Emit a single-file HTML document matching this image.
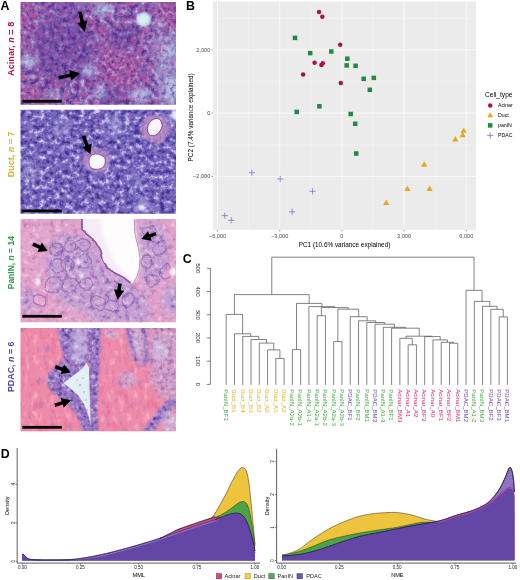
<!DOCTYPE html>
<html><head><meta charset="utf-8"><style>
html,body{margin:0;padding:0;background:#fff;}
body{width:520px;height:580px;overflow:hidden;}
svg{display:block;font-family:'Liberation Sans', Arial, Helvetica, sans-serif;}
</style></head><body>
<svg width="520" height="580" viewBox="0 0 520 580">
<defs>
<linearGradient id="lumg4" x1="0" y1="0" x2="1" y2="1"><stop offset="0" stop-color="#e6f0f4"/><stop offset="1" stop-color="#dceef2"/></linearGradient>
<filter id="bl0_6" x="-50%" y="-50%" width="200%" height="200%"><feGaussianBlur stdDeviation="0.6"/></filter>
<filter id="bl1" x="-50%" y="-50%" width="200%" height="200%"><feGaussianBlur stdDeviation="1"/></filter>
<filter id="bl1_2" x="-50%" y="-50%" width="200%" height="200%"><feGaussianBlur stdDeviation="1.2"/></filter>
<filter id="bl1_5" x="-50%" y="-50%" width="200%" height="200%"><feGaussianBlur stdDeviation="1.5"/></filter>
<filter id="bl2" x="-50%" y="-50%" width="200%" height="200%"><feGaussianBlur stdDeviation="2"/></filter>
<filter id="bl2_5" x="-50%" y="-50%" width="200%" height="200%"><feGaussianBlur stdDeviation="2.5"/></filter>
<filter id="bl3" x="-50%" y="-50%" width="200%" height="200%"><feGaussianBlur stdDeviation="3"/></filter>
<filter id="bl4" x="-50%" y="-50%" width="200%" height="200%"><feGaussianBlur stdDeviation="4"/></filter>
<filter id="bl6" x="-50%" y="-50%" width="200%" height="200%"><feGaussianBlur stdDeviation="6"/></filter>
<filter id="wob" x="-10%" y="-10%" width="120%" height="120%"><feTurbulence type="fractalNoise" baseFrequency="0.12" numOctaves="2" seed="9" result="t"/><feDisplacementMap in="SourceGraphic" in2="t" scale="5" xChannelSelector="R" yChannelSelector="G" result="d"/><feGaussianBlur in="d" stdDeviation="0.7"/></filter>
<filter id="wob2" x="-10%" y="-10%" width="120%" height="120%"><feTurbulence type="fractalNoise" baseFrequency="0.08" numOctaves="1" seed="5" result="t"/><feDisplacementMap in="SourceGraphic" in2="t" scale="3" xChannelSelector="R" yChannelSelector="G" result="d"/><feGaussianBlur in="d" stdDeviation="0.55"/></filter>
<filter id="tx_pur1" x="0" y="0" width="100%" height="100%" filterUnits="objectBoundingBox" color-interpolation-filters="sRGB"><feTurbulence type="fractalNoise" baseFrequency="0.2" numOctaves="4" seed="3" result="n"/><feFlood flood-color="#8c66b2" result="b"/><feTurbulence type="fractalNoise" baseFrequency="0.16" numOctaves="2" seed="77" result="n2"/><feColorMatrix in="n" type="matrix" values="0 0 0 0 0.769  0 0 0 0 0.722  0 0 0 0 0.886  -3.600 0.000 0.000 0.000 1.620" result="l"/><feColorMatrix in="n" type="matrix" values="0 0 0 0 0.337  0 0 0 0 0.188  0 0 0 0 0.557  4.000 0.000 0.000 0.000 -1.960" result="d"/><feColorMatrix in="n2" type="matrix" values="0 0 0 0 0.737  0 0 0 0 0.306  0 0 0 0 0.596  0.000 3.000 0.000 0.000 -1.500" result="p"/><feMerge><feMergeNode in="b"/><feMergeNode in="l"/><feMergeNode in="d"/><feMergeNode in="p"/></feMerge></filter>
<filter id="tx_mag1" x="0" y="0" width="100%" height="100%" filterUnits="objectBoundingBox" color-interpolation-filters="sRGB"><feTurbulence type="fractalNoise" baseFrequency="0.26" numOctaves="3" seed="5" result="n"/><feFlood flood-color="#a060a8" result="b"/><feColorMatrix in="n" type="matrix" values="0 0 0 0 0.816  0 0 0 0 0.706  0 0 0 0 0.863  -3.400 0.000 0.000 0.000 1.530" result="l"/><feColorMatrix in="n" type="matrix" values="0 0 0 0 0.384  0 0 0 0 0.184  0 0 0 0 0.557  3.600 0.000 0.000 0.000 -1.764" result="d"/><feColorMatrix in="n" type="matrix" values="0 0 0 0 0.769  0 0 0 0 0.314  0 0 0 0 0.612  0.000 3.000 0.000 0.000 -1.500" result="p"/><feMerge><feMergeNode in="b"/><feMergeNode in="l"/><feMergeNode in="d"/><feMergeNode in="p"/></feMerge></filter>
<filter id="tx_lite1" x="0" y="0" width="100%" height="100%" filterUnits="objectBoundingBox" color-interpolation-filters="sRGB"><feTurbulence type="fractalNoise" baseFrequency="0.24" numOctaves="3" seed="7" result="n"/><feFlood flood-color="#b4c6e8" result="b"/><feColorMatrix in="n" type="matrix" values="0 0 0 0 0.824  0 0 0 0 0.925  0 0 0 0 0.957  -3.600 0.000 0.000 0.000 1.656" result="l"/><feColorMatrix in="n" type="matrix" values="0 0 0 0 0.455  0 0 0 0 0.376  0 0 0 0 0.706  3.600 0.000 0.000 0.000 -1.908" result="d"/><feColorMatrix in="n" type="matrix" values="0 0 0 0 0.690  0 0 0 0 0.533  0 0 0 0 0.784  0.000 3.000 0.000 0.000 -1.800" result="p"/><feMerge><feMergeNode in="b"/><feMergeNode in="l"/><feMergeNode in="d"/><feMergeNode in="p"/></feMerge></filter>
<filter id="tx_dark1" x="0" y="0" width="100%" height="100%" filterUnits="objectBoundingBox" color-interpolation-filters="sRGB"><feTurbulence type="fractalNoise" baseFrequency="0.22" numOctaves="3" seed="4" result="n"/><feFlood flood-color="#7654a8" result="b"/><feTurbulence type="fractalNoise" baseFrequency="0.2" numOctaves="2" seed="78" result="n2"/><feColorMatrix in="n" type="matrix" values="0 0 0 0 0.659  0 0 0 0 0.565  0 0 0 0 0.816  -3.400 0.000 0.000 0.000 1.496" result="l"/><feColorMatrix in="n" type="matrix" values="0 0 0 0 0.290  0 0 0 0 0.165  0 0 0 0 0.533  4.000 0.000 0.000 0.000 -1.920" result="d"/><feColorMatrix in="n2" type="matrix" values="0 0 0 0 0.643  0 0 0 0 0.298  0 0 0 0 0.612  0.000 3.000 0.000 0.000 -1.560" result="p"/><feMerge><feMergeNode in="b"/><feMergeNode in="l"/><feMergeNode in="d"/><feMergeNode in="p"/></feMerge></filter>
<filter id="tx_pur2" x="0" y="0" width="100%" height="100%" filterUnits="objectBoundingBox" color-interpolation-filters="sRGB"><feTurbulence type="fractalNoise" baseFrequency="0.2" numOctaves="4" seed="11" result="n"/><feFlood flood-color="#7868be" result="b"/><feTurbulence type="fractalNoise" baseFrequency="0.15" numOctaves="2" seed="99" result="n2"/><feColorMatrix in="n" type="matrix" values="0 0 0 0 0.831  0 0 0 0 0.816  0 0 0 0 0.949  -3.800 0.000 0.000 0.000 1.748" result="l"/><feColorMatrix in="n" type="matrix" values="0 0 0 0 0.251  0 0 0 0 0.188  0 0 0 0 0.557  3.800 0.000 0.000 0.000 -1.900" result="d"/><feColorMatrix in="n2" type="matrix" values="0 0 0 0 0.596  0 0 0 0 0.455  0 0 0 0 0.745  0.000 2.400 0.000 0.000 -1.320" result="p"/><feMerge><feMergeNode in="b"/><feMergeNode in="l"/><feMergeNode in="d"/><feMergeNode in="p"/></feMerge></filter>
<filter id="tx_lite2" x="0" y="0" width="100%" height="100%" filterUnits="objectBoundingBox" color-interpolation-filters="sRGB"><feTurbulence type="fractalNoise" baseFrequency="0.22" numOctaves="3" seed="12" result="n"/><feFlood flood-color="#a49cd8" result="b"/><feColorMatrix in="n" type="matrix" values="0 0 0 0 0.878  0 0 0 0 0.878  0 0 0 0 0.957  -3.600 0.000 0.000 0.000 1.620" result="l"/><feColorMatrix in="n" type="matrix" values="0 0 0 0 0.353  0 0 0 0 0.282  0 0 0 0 0.659  3.600 0.000 0.000 0.000 -1.872" result="d"/><feMerge><feMergeNode in="b"/><feMergeNode in="l"/><feMergeNode in="d"/></feMerge></filter>
<filter id="tx_ring2" x="0" y="0" width="100%" height="100%" filterUnits="objectBoundingBox" color-interpolation-filters="sRGB"><feTurbulence type="fractalNoise" baseFrequency="0.24" numOctaves="2" seed="13" result="n"/><feFlood flood-color="#b48cc6" result="b"/><feColorMatrix in="n" type="matrix" values="0 0 0 0 0.839  0 0 0 0 0.769  0 0 0 0 0.902  -3.000 0.000 0.000 0.000 1.350" result="l"/><feColorMatrix in="n" type="matrix" values="0 0 0 0 0.541  0 0 0 0 0.353  0 0 0 0 0.659  3.000 0.000 0.000 0.000 -1.680" result="d"/><feColorMatrix in="n" type="matrix" values="0 0 0 0 0.776  0 0 0 0 0.518  0 0 0 0 0.753  0.000 2.600 0.000 0.000 -1.352" result="p"/><feMerge><feMergeNode in="b"/><feMergeNode in="l"/><feMergeNode in="d"/><feMergeNode in="p"/></feMerge></filter>
<filter id="tx_pink3" x="0" y="0" width="100%" height="100%" filterUnits="objectBoundingBox" color-interpolation-filters="sRGB"><feTurbulence type="fractalNoise" baseFrequency="0.18" numOctaves="3" seed="17" result="n"/><feFlood flood-color="#e2a6cc" result="b"/><feColorMatrix in="n" type="matrix" values="0 0 0 0 0.949  0 0 0 0 0.839  0 0 0 0 0.918  -3.000 0.000 0.000 0.000 1.320" result="l"/><feColorMatrix in="n" type="matrix" values="0 0 0 0 0.722  0 0 0 0 0.471  0 0 0 0 0.722  3.000 0.000 0.000 0.000 -1.680" result="d"/><feColorMatrix in="n" type="matrix" values="0 0 0 0 0.886  0 0 0 0 0.549  0 0 0 0 0.737  0.000 2.600 0.000 0.000 -1.404" result="p"/><feMerge><feMergeNode in="b"/><feMergeNode in="l"/><feMergeNode in="d"/><feMergeNode in="p"/></feMerge></filter>
<filter id="tx_gland3" x="0" y="0" width="100%" height="100%" filterUnits="objectBoundingBox" color-interpolation-filters="sRGB"><feTurbulence type="fractalNoise" baseFrequency="0.2" numOctaves="3" seed="19" result="n"/><feFlood flood-color="#c0a0d2" result="b"/><feColorMatrix in="n" type="matrix" values="0 0 0 0 0.902  0 0 0 0 0.839  0 0 0 0 0.933  -3.200 0.000 0.000 0.000 1.408" result="l"/><feColorMatrix in="n" type="matrix" values="0 0 0 0 0.502  0 0 0 0 0.345  0 0 0 0 0.690  3.400 0.000 0.000 0.000 -1.802" result="d"/><feColorMatrix in="n" type="matrix" values="0 0 0 0 0.847  0 0 0 0 0.627  0 0 0 0 0.800  0.000 2.600 0.000 0.000 -1.404" result="p"/><feMerge><feMergeNode in="b"/><feMergeNode in="l"/><feMergeNode in="d"/><feMergeNode in="p"/></feMerge></filter>
<filter id="tx_lum3" x="0" y="0" width="100%" height="100%" filterUnits="objectBoundingBox" color-interpolation-filters="sRGB"><feTurbulence type="fractalNoise" baseFrequency="0.15" numOctaves="2" seed="20" result="n"/><feFlood flood-color="#f6eef4" result="b"/><feColorMatrix in="n" type="matrix" values="0 0 0 0 1.000  0 0 0 0 1.000  0 0 0 0 1.000  -3.000 0.000 0.000 0.000 1.500" result="l"/><feColorMatrix in="n" type="matrix" values="0 0 0 0 0.894  0 0 0 0 0.800  0 0 0 0 0.878  3.000 0.000 0.000 0.000 -1.740" result="d"/><feMerge><feMergeNode in="b"/><feMergeNode in="l"/><feMergeNode in="d"/></feMerge></filter>
<filter id="tx_pink4" x="0" y="0" width="100%" height="100%" filterUnits="objectBoundingBox" color-interpolation-filters="sRGB"><feTurbulence type="fractalNoise" baseFrequency="0.16 0.09" numOctaves="3" seed="23" result="n"/><feFlood flood-color="#ee8aaa" result="b"/><feColorMatrix in="n" type="matrix" values="0 0 0 0 0.973  0 0 0 0 0.737  0 0 0 0 0.800  -3.000 0.000 0.000 0.000 1.290" result="l"/><feColorMatrix in="n" type="matrix" values="0 0 0 0 0.690  0 0 0 0 0.471  0 0 0 0 0.706  3.000 0.000 0.000 0.000 -1.860" result="d"/><feColorMatrix in="n" type="matrix" values="0 0 0 0 0.925  0 0 0 0 0.416  0 0 0 0 0.565  0.000 2.600 0.000 0.000 -1.404" result="p"/><feMerge><feMergeNode in="b"/><feMergeNode in="l"/><feMergeNode in="d"/><feMergeNode in="p"/></feMerge></filter>
<filter id="tx_mot4" x="0" y="0" width="100%" height="100%" filterUnits="objectBoundingBox" color-interpolation-filters="sRGB"><feTurbulence type="fractalNoise" baseFrequency="0.22" numOctaves="3" seed="33" result="n"/><feFlood flood-color="#c8a0cc" result="b"/><feColorMatrix in="n" type="matrix" values="0 0 0 0 0.925  0 0 0 0 0.847  0 0 0 0 0.918  -3.000 0.000 0.000 0.000 1.350" result="l"/><feColorMatrix in="n" type="matrix" values="0 0 0 0 0.478  0 0 0 0 0.361  0 0 0 0 0.690  3.400 0.000 0.000 0.000 -1.802" result="d"/><feColorMatrix in="n" type="matrix" values="0 0 0 0 0.910  0 0 0 0 0.565  0 0 0 0 0.722  0.000 2.600 0.000 0.000 -1.352" result="p"/><feMerge><feMergeNode in="b"/><feMergeNode in="l"/><feMergeNode in="d"/><feMergeNode in="p"/></feMerge></filter>
<filter id="tx_pur4" x="0" y="0" width="100%" height="100%" filterUnits="objectBoundingBox" color-interpolation-filters="sRGB"><feTurbulence type="fractalNoise" baseFrequency="0.24" numOctaves="3" seed="29" result="n"/><feFlood flood-color="#9478c4" result="b"/><feColorMatrix in="n" type="matrix" values="0 0 0 0 0.808  0 0 0 0 0.769  0 0 0 0 0.918  -3.400 0.000 0.000 0.000 1.530" result="l"/><feColorMatrix in="n" type="matrix" values="0 0 0 0 0.322  0 0 0 0 0.227  0 0 0 0 0.612  3.600 0.000 0.000 0.000 -1.800" result="d"/><feColorMatrix in="n" type="matrix" values="0 0 0 0 0.690  0 0 0 0 0.518  0 0 0 0 0.784  0.000 2.400 0.000 0.000 -1.320" result="p"/><feMerge><feMergeNode in="b"/><feMergeNode in="l"/><feMergeNode in="d"/><feMergeNode in="p"/></feMerge></filter>
<filter id="tx_lite4" x="0" y="0" width="100%" height="100%" filterUnits="objectBoundingBox" color-interpolation-filters="sRGB"><feTurbulence type="fractalNoise" baseFrequency="0.2" numOctaves="3" seed="31" result="n"/><feFlood flood-color="#cabce2" result="b"/><feColorMatrix in="n" type="matrix" values="0 0 0 0 0.933  0 0 0 0 0.941  0 0 0 0 0.973  -3.400 0.000 0.000 0.000 1.530" result="l"/><feColorMatrix in="n" type="matrix" values="0 0 0 0 0.541  0 0 0 0 0.439  0 0 0 0 0.737  3.400 0.000 0.000 0.000 -1.904" result="d"/><feColorMatrix in="n" type="matrix" values="0 0 0 0 0.878  0 0 0 0 0.659  0 0 0 0 0.800  0.000 2.600 0.000 0.000 -1.430" result="p"/><feMerge><feMergeNode in="b"/><feMergeNode in="l"/><feMergeNode in="d"/><feMergeNode in="p"/></feMerge></filter>
<filter id="tx_lum4" x="0" y="0" width="100%" height="100%" filterUnits="objectBoundingBox" color-interpolation-filters="sRGB"><feTurbulence type="fractalNoise" baseFrequency="0.25" numOctaves="2" seed="41" result="n"/><feFlood flood-color="#e2eef4" result="b"/><feColorMatrix in="n" type="matrix" values="0 0 0 0 0.965  0 0 0 0 0.984  0 0 0 0 0.988  -3.000 0.000 0.000 0.000 1.350" result="l"/><feColorMatrix in="n" type="matrix" values="0 0 0 0 0.722  0 0 0 0 0.706  0 0 0 0 0.863  3.000 0.000 0.000 0.000 -1.800" result="d"/><feMerge><feMergeNode in="b"/><feMergeNode in="l"/><feMergeNode in="d"/></feMerge></filter>
</defs>
<clipPath id="clip1"><rect x="20.5" y="2.1" width="155.5" height="102.7"/></clipPath>
<g clip-path="url(#clip1)">
<rect x="20.5" y="2.1" width="155.5" height="102.7" filter="url(#tx_pur1)"/>
<mask id="m1_0" maskUnits="userSpaceOnUse" x="20.5" y="2.1" width="155.5" height="102.7"><g filter="url(#bl3)" fill="#fff"><path d="M40,20 L70,14 L90,28 L92,55 L84,78 L60,82 L42,74 L36,50 Z"/><ellipse cx="120" cy="36" rx="18" ry="10"/><ellipse cx="64" cy="8" rx="14" ry="6"/><ellipse cx="112" cy="96" rx="12" ry="7"/></g></mask>
<rect x="20.5" y="2.1" width="155.5" height="102.7" filter="url(#tx_dark1)" mask="url(#m1_0)" opacity="0.85"/>
<mask id="m1_1" maskUnits="userSpaceOnUse" x="20.5" y="2.1" width="155.5" height="102.7"><g filter="url(#bl2_5)" fill="#fff"><path d="M19,2 L38,2 L30,14 L26,52 L19,54 Z"/><path d="M84,22 L92,20 L114,40 L108,46 Z"/><path d="M100,48 L130,50 L142,70 L136,90 L112,86 L100,70 Z"/><path d="M152,2 L178,2 L178,30 L160,28 Z"/><ellipse cx="30" cy="94" rx="14" ry="8"/><ellipse cx="158" cy="50" rx="8" ry="10"/></g></mask>
<rect x="20.5" y="2.1" width="155.5" height="102.7" filter="url(#tx_mag1)" mask="url(#m1_1)" opacity="0.85"/>
<mask id="m1_2" maskUnits="userSpaceOnUse" x="20.5" y="2.1" width="155.5" height="102.7"><g filter="url(#bl2_5)" fill="#fff"><ellipse cx="29" cy="61" rx="8" ry="6"/><ellipse cx="89" cy="70" rx="7" ry="6"/><ellipse cx="100" cy="92" rx="6" ry="6"/><ellipse cx="140" cy="95" rx="10" ry="7"/><ellipse cx="103" cy="9" rx="10" ry="6"/><ellipse cx="160" cy="24" rx="5" ry="4"/><ellipse cx="170" cy="52" rx="6" ry="6"/><ellipse cx="172" cy="88" rx="6" ry="12"/></g></mask>
<rect x="20.5" y="2.1" width="155.5" height="102.7" filter="url(#tx_lite1)" mask="url(#m1_2)" opacity="0.8"/>
<mask id="m1_3" maskUnits="userSpaceOnUse" x="20.5" y="2.1" width="155.5" height="102.7"><g filter="url(#bl3)" fill="#fff"><path d="M152,34 L178,32 L178,106 L158,106 L156,80 Z"/><ellipse cx="55" cy="95" rx="10" ry="4"/></g></mask>
<rect x="20.5" y="2.1" width="155.5" height="102.7" filter="url(#tx_lite1)" mask="url(#m1_3)" opacity="0.45"/>
<ellipse cx="143.6" cy="19.6" rx="7.4" ry="7.3" fill="#c8e2ec" filter="url(#bl1)"/>
<ellipse cx="143.2" cy="19.2" rx="5" ry="4.8" fill="#d8eef2" filter="url(#bl1_5)"/>
<g fill="#a8c0dc" opacity="0.6"><circle cx="146" cy="23" r="0.8"/><circle cx="140" cy="16" r="0.7"/></g>
<path d="M78.25,12.40 L80.49,22.17 L77.08,22.96 L84.60,32.00 L87.41,20.58 L84.00,21.36 L81.75,11.60 Z" fill="#000"/>
<path d="M58.98,79.56 L70.60,77.06 L71.34,80.48 L80.00,73.20 L69.11,70.12 L69.85,73.54 L58.22,76.04 Z" fill="#000"/>
<rect x="22.3" y="99.9" width="39.5" height="2.8" fill="#050505"/>
</g>
<clipPath id="clip2"><rect x="20.5" y="109.8" width="155.5" height="104.0"/></clipPath>
<g clip-path="url(#clip2)">
<rect x="20.5" y="109.8" width="155.5" height="104.0" filter="url(#tx_pur2)"/>
<mask id="m2_0" maskUnits="userSpaceOnUse" x="20.5" y="109.8" width="155.5" height="104.0"><g filter="url(#bl3)" fill="#fff"><ellipse cx="114" cy="126" rx="9" ry="11"/><ellipse cx="172" cy="116" rx="6" ry="8"/><ellipse cx="30" cy="172" rx="8" ry="10"/><ellipse cx="136" cy="182" rx="5" ry="10" transform="rotate(-30 136 182)"/><ellipse cx="142" cy="206" rx="9" ry="7"/><ellipse cx="60" cy="128" rx="8" ry="7"/></g></mask>
<rect x="20.5" y="109.8" width="155.5" height="104.0" filter="url(#tx_lite2)" mask="url(#m2_0)" opacity="0.7"/>
<mask id="m2_1" maskUnits="userSpaceOnUse" x="20.5" y="109.8" width="155.5" height="104.0"><g filter="url(#bl1)" fill="#fff"><ellipse cx="96.6" cy="160.6" rx="13.4" ry="12.2"/><path d="M141,128 Q141,116 153,115 Q166,114 168,127 Q169,140 156,143 Q143,143 141,128 Z"/></g></mask>
<rect x="20.5" y="109.8" width="155.5" height="104.0" filter="url(#tx_ring2)" mask="url(#m2_1)" opacity="0.95"/>
<path d="M89,161 Q89,154.5 95.5,154 Q99.5,153.6 101.5,155.5 Q105.5,156.5 105.3,161 Q105.5,168 98.5,169.2 Q90.5,169.8 89.3,165 Z" fill="#f6f6fb" stroke="#6a48a0" stroke-width="0.8" filter="url(#bl0_6)"/>
<path d="M147.4,128.3 Q147.8,124.5 149.2,122.8 Q151.5,119.8 153.8,119.1 L157.5,118.2 Q160.5,119 161.2,121.8 Q162.6,124.5 162.1,126.5 Q161,130 159.4,132 Q157.5,134.5 154.8,135.7 L150.2,135.7 Q147.2,133 147.4,128.3 Z" fill="#f6f6fb" stroke="#8a3c98" stroke-width="1.0" filter="url(#bl0_6)"/>
<ellipse cx="142" cy="207.5" rx="3.5" ry="3" fill="#e8e8f6" filter="url(#bl1)"/>
<ellipse cx="175" cy="115" rx="3" ry="5" fill="#eeeef8" filter="url(#bl1)"/>
<path d="M81.72,136.65 L85.31,145.98 L82.14,147.20 L90.40,154.20 L91.84,143.47 L88.67,144.69 L85.08,135.35 Z" fill="#000"/>
<rect x="22.3" y="209.5" width="39.5" height="2.8" fill="#050505"/>
</g>
<clipPath id="clip3"><rect x="20.5" y="219.0" width="155.5" height="103.2"/></clipPath>
<g clip-path="url(#clip3)">
<rect x="20.5" y="219.0" width="155.5" height="103.2" filter="url(#tx_pink3)"/>
<mask id="m3_0" maskUnits="userSpaceOnUse" x="20.5" y="219.0" width="155.5" height="103.2"><g filter="url(#bl3)" fill="#fff"><path d="M52,238 L66,232 L80,236 L90,240 L98,252 L102,264 L110,272 L126,280 L136,288 L148,296 L150,322 L96,322 L80,310 L62,304 L50,290 L46,270 L48,252 Z"/><path d="M140,222 L160,222 L168,240 L170,262 L160,282 L150,290 L142,284 L141,262 L139,240 Z"/><ellipse cx="172" cy="300" rx="10" ry="14"/><ellipse cx="26" cy="300" rx="8" ry="12"/></g></mask>
<rect x="20.5" y="219.0" width="155.5" height="103.2" filter="url(#tx_gland3)" mask="url(#m3_0)" opacity="0.9"/>
<path d="M82,216 L133.5,216 L134.5,230.5 L136,238.5 L138.6,249.3 L140,257.4 L139.3,268 L137.2,276 L133,283.5 L130.5,283 L123.8,277.6 L115.7,273.5 L107.6,268.1 L102.9,260 L100.9,250.6 L95.5,241.2 L88.8,235.8 L82,230.5 Z" fill="#f6ecf3" filter="url(#bl0_6)"/>
<path d="M100,216 L133.5,216 L134.5,230.5 L136,238.5 L138.6,249.3 L140,257.4 L139.3,268 L137.2,276 L133,282 L125,274 L116,264 L109,250 L102,234 Z" fill="#fefcfd" filter="url(#bl2)"/>
<path d="M82,219 L82,230.5 L88.8,235.8 L95.5,241.2 L100.9,250.6 L102.9,260 L107.6,268.1 L115.7,273.5 L123.8,277.6 L130.5,283" fill="none" stroke="#8058ae" stroke-width="1.7" filter="url(#wob2)"/>
<path d="M134.5,219 L134.5,230.5 L136,238.5 L138.6,249.3 L140,257.4 L139.3,268 L137.2,276 L133,283.5" fill="none" stroke="#b898cc" stroke-width="1.0" filter="url(#wob2)"/>
<g fill="none" stroke="#7c50a8" stroke-width="1.4" opacity="0.5" filter="url(#wob)"><ellipse cx="56.3" cy="249.4" rx="6.7" ry="6" transform="rotate(20 56.3 249.4)"/><ellipse cx="69.7" cy="246.4" rx="6" ry="5.5" transform="rotate(-10 69.7 246.4)"/><ellipse cx="83" cy="245" rx="7" ry="6" transform="rotate(30 83 245)"/><ellipse cx="57.8" cy="265.7" rx="8" ry="7" transform="rotate(0 57.8 265.7)"/><ellipse cx="68.2" cy="264.2" rx="6" ry="6.5" transform="rotate(0 68.2 264.2)"/><ellipse cx="84.5" cy="261.2" rx="6" ry="7" transform="rotate(10 84.5 261.2)"/><ellipse cx="53.4" cy="285" rx="9" ry="8" transform="rotate(20 53.4 285)"/><ellipse cx="69.7" cy="285" rx="8" ry="7" transform="rotate(-20 69.7 285)"/><ellipse cx="86" cy="283.5" rx="7" ry="6" transform="rotate(0 86 283.5)"/><ellipse cx="97.9" cy="302.8" rx="8" ry="7" transform="rotate(30 97.9 302.8)"/><ellipse cx="112" cy="306" rx="7" ry="6" transform="rotate(0 112 306)"/><ellipse cx="128" cy="300" rx="6" ry="7" transform="rotate(0 128 300)"/><ellipse cx="150" cy="232" rx="7" ry="6" transform="rotate(0 150 232)"/><ellipse cx="160" cy="248" rx="6" ry="7" transform="rotate(20 160 248)"/><ellipse cx="147" cy="262" rx="6" ry="6" transform="rotate(0 147 262)"/><ellipse cx="152" cy="280" rx="7" ry="6" transform="rotate(-20 152 280)"/><ellipse cx="166" cy="272" rx="6" ry="8" transform="rotate(0 166 272)"/><ellipse cx="40" cy="300" rx="7" ry="6" transform="rotate(0 40 300)"/></g>
<ellipse cx="38" cy="281.5" rx="2.5" ry="4" fill="#f6eef4" filter="url(#bl1)"/>
<ellipse cx="78.5" cy="262" rx="2" ry="3.5" fill="#f6eef4" filter="url(#bl1)"/>
<ellipse cx="81.5" cy="276" rx="2" ry="3" fill="#f6eef4" filter="url(#bl1)"/>
<ellipse cx="173" cy="272" rx="3" ry="5" fill="#f8f2f6" filter="url(#bl1)"/>
<path d="M32.13,245.63 L38.89,248.80 L37.44,251.88 L47.80,251.00 L41.87,242.47 L40.42,245.54 L33.67,242.37 Z" fill="#000"/>
<path d="M155.39,231.91 L149.25,234.14 L148.09,230.94 L141.40,238.90 L151.63,240.72 L150.47,237.52 L156.61,235.29 Z" fill="#000"/>
<path d="M118.22,283.34 L117.28,289.64 L113.92,289.15 L117.60,299.80 L124.21,290.67 L120.85,290.17 L121.78,283.86 Z" fill="#000"/>
<rect x="22.3" y="314.9" width="39.5" height="2.8" fill="#050505"/>
</g>
<clipPath id="clip4"><rect x="20.5" y="328.0" width="155.5" height="103.2"/></clipPath>
<g clip-path="url(#clip4)">
<rect x="20.5" y="328.0" width="155.5" height="103.2" filter="url(#tx_pink4)"/>
<mask id="m4_0" maskUnits="userSpaceOnUse" x="20.5" y="328.0" width="155.5" height="103.2"><g filter="url(#bl1_2)" fill="#fff"><path d="M57,326 L60,344 L64,359 L56,366 L48,374 L46,382 L50,390 L58,397 L67,404 L76,414 L82,428 L83,434 L94,434 L92,425 L89,414 L86,404 L80,395 L72,388 L70,383 L76,377 L84,370 L88,362 L88,345 L87,326 Z"/><path d="M87,326 L101,326 L100,350 L98.5,380 L97.5,405 L98,434 L90,434 L90.5,425 L89.5,400 L89,380 L89,362 L88.5,345 Z"/><path d="M140,434 L152,418 L164,404 L178,390 L178,404 L166,416 L156,428 L152,434 Z"/></g></mask>
<rect x="20.5" y="328.0" width="155.5" height="103.2" filter="url(#tx_pur4)" mask="url(#m4_0)" opacity="0.95"/>
<mask id="m4_1" maskUnits="userSpaceOnUse" x="20.5" y="328.0" width="155.5" height="103.2"><g filter="url(#bl2_5)" fill="#fff"><path d="M126,326 L146,326 L148,345 L149,360 L142,369 L134,360 L131,345 Z"/><path d="M150,326 L178,326 L178,400 L160,398 L150,380 Z"/><ellipse cx="125" cy="380" rx="6" ry="10"/></g></mask>
<rect x="20.5" y="328.0" width="155.5" height="103.2" filter="url(#tx_mot4)" mask="url(#m4_1)" opacity="0.85"/>
<mask id="m4_2" maskUnits="userSpaceOnUse" x="20.5" y="328.0" width="155.5" height="103.2"><g filter="url(#bl1_2)" fill="#fff"><path d="M126,326 L131,326 L134,345 L138,362 L134,360 L129,345 Z"/><path d="M142,326 L146,326 L148,345 L149,360 L143,368 L145,350 Z"/></g></mask>
<rect x="20.5" y="328.0" width="155.5" height="103.2" filter="url(#tx_pur4)" mask="url(#m4_2)" opacity="0.9"/>
<mask id="m4_3" maskUnits="userSpaceOnUse" x="20.5" y="328.0" width="155.5" height="103.2"><g filter="url(#bl2)" fill="#fff"><path d="M74,326 L86,326 L87,350 L85,362 L78,364 L70,358 L72,340 Z"/><ellipse cx="160" cy="350" rx="8" ry="12"/><ellipse cx="132" cy="379" rx="4" ry="7"/><ellipse cx="170" cy="422" rx="9" ry="12"/><ellipse cx="112" cy="334" rx="8" ry="5"/><ellipse cx="137" cy="343" rx="4" ry="12"/></g></mask>
<rect x="20.5" y="328.0" width="155.5" height="103.2" filter="url(#tx_lite4)" mask="url(#m4_3)" opacity="0.75"/>
<path d="M86.5,363 L82,369 L74,375 L66,381 L64,383.5 L70,388 L78,395 L84,404 L88.5,415 L90.6,425 L90.3,410 L89.6,395 L89.2,380 L89,368 Z" fill="url(#lumg4)" filter="url(#bl0_6)"/>
<g fill="#8a80b8" opacity="0.7"><circle cx="80" cy="385" r="0.9"/><circle cx="84" cy="392" r="0.8"/><circle cx="77" cy="380" r="0.7"/><circle cx="86" cy="400" r="0.8"/><circle cx="83" cy="378" r="0.7"/><circle cx="87" cy="410" r="0.7"/></g>
<path d="M54.57,368.29 L61.74,370.95 L60.62,373.95 L70.80,372.40 L64.11,364.58 L62.99,367.58 L55.83,364.91 Z" fill="#000"/>
<path d="M55.34,406.92 L62.75,404.60 L63.70,407.66 L70.80,400.20 L60.72,398.11 L61.67,401.17 L54.26,403.48 Z" fill="#000"/>
<rect x="22.3" y="425.9" width="39.5" height="2.8" fill="#050505"/>
</g>
<text transform="translate(14.1,48.8) rotate(-90)" font-size="9.2" font-weight="bold" fill="#B0154C" text-anchor="middle">Acinar, <tspan font-style="italic">n</tspan> = 8</text>
<text transform="translate(14.1,154.4) rotate(-90)" font-size="9.0" font-weight="bold" fill="#E0B12C" text-anchor="middle">Duct, <tspan font-style="italic">n</tspan> = 7</text>
<text transform="translate(14.1,262.7) rotate(-90)" font-size="8.5" font-weight="bold" fill="#2E9E48" text-anchor="middle">PanIN, <tspan font-style="italic">n</tspan> = 14</text>
<text transform="translate(14.1,366.8) rotate(-90)" font-size="8.9" font-weight="bold" fill="#5B3C9C" text-anchor="middle">PDAC, <tspan font-style="italic">n</tspan> = 6</text>
<text x="0.6" y="9.7" font-size="12.4" font-weight="bold" fill="#000">A</text>
<text x="186" y="9.8" font-size="12.4" font-weight="bold" fill="#000">B</text>
<text x="182.8" y="263.2" font-size="12.4" font-weight="bold" fill="#000">C</text>
<text x="0.8" y="457.6" font-size="12.4" font-weight="bold" fill="#000">D</text>
<rect x="213" y="1.6" width="263" height="228.20000000000002" fill="#EBEBEB"/>
<line x1="248.6" y1="1.6" x2="248.6" y2="229.8" stroke="#F4F4F4" stroke-width="0.6"/>
<line x1="310.79999999999995" y1="1.6" x2="310.79999999999995" y2="229.8" stroke="#F4F4F4" stroke-width="0.6"/>
<line x1="373.0" y1="1.6" x2="373.0" y2="229.8" stroke="#F4F4F4" stroke-width="0.6"/>
<line x1="435.20000000000005" y1="1.6" x2="435.20000000000005" y2="229.8" stroke="#F4F4F4" stroke-width="0.6"/>
<line x1="213" y1="208.05" x2="476" y2="208.05" stroke="#F4F4F4" stroke-width="0.6"/>
<line x1="213" y1="144.75" x2="476" y2="144.75" stroke="#F4F4F4" stroke-width="0.6"/>
<line x1="213" y1="81.45" x2="476" y2="81.45" stroke="#F4F4F4" stroke-width="0.6"/>
<line x1="213" y1="18.15" x2="476" y2="18.15" stroke="#F4F4F4" stroke-width="0.6"/>
<line x1="217.5" y1="1.6" x2="217.5" y2="229.8" stroke="#FAFAFA" stroke-width="1"/>
<line x1="279.7" y1="1.6" x2="279.7" y2="229.8" stroke="#FAFAFA" stroke-width="1"/>
<line x1="341.9" y1="1.6" x2="341.9" y2="229.8" stroke="#FAFAFA" stroke-width="1"/>
<line x1="404.1" y1="1.6" x2="404.1" y2="229.8" stroke="#FAFAFA" stroke-width="1"/>
<line x1="466.3" y1="1.6" x2="466.3" y2="229.8" stroke="#FAFAFA" stroke-width="1"/>
<line x1="213" y1="176.4" x2="476" y2="176.4" stroke="#FAFAFA" stroke-width="1"/>
<line x1="213" y1="113.1" x2="476" y2="113.1" stroke="#FAFAFA" stroke-width="1"/>
<line x1="213" y1="49.8" x2="476" y2="49.8" stroke="#FAFAFA" stroke-width="1"/>
<line x1="217.5" y1="229.8" x2="217.5" y2="231.4" stroke="#333" stroke-width="0.5"/>
<line x1="279.7" y1="229.8" x2="279.7" y2="231.4" stroke="#333" stroke-width="0.5"/>
<line x1="341.9" y1="229.8" x2="341.9" y2="231.4" stroke="#333" stroke-width="0.5"/>
<line x1="404.1" y1="229.8" x2="404.1" y2="231.4" stroke="#333" stroke-width="0.5"/>
<line x1="466.3" y1="229.8" x2="466.3" y2="231.4" stroke="#333" stroke-width="0.5"/>
<line x1="211.4" y1="176.4" x2="213" y2="176.4" stroke="#333" stroke-width="0.5"/>
<line x1="211.4" y1="113.1" x2="213" y2="113.1" stroke="#333" stroke-width="0.5"/>
<line x1="211.4" y1="49.8" x2="213" y2="49.8" stroke="#333" stroke-width="0.5"/>
<text x="217.5" y="237.6" font-size="5.6" fill="#4D4D4D" text-anchor="middle">−6,000</text>
<text x="279.7" y="237.6" font-size="5.6" fill="#4D4D4D" text-anchor="middle">−3,000</text>
<text x="341.9" y="237.6" font-size="5.6" fill="#4D4D4D" text-anchor="middle">0</text>
<text x="404.1" y="237.6" font-size="5.6" fill="#4D4D4D" text-anchor="middle">3,000</text>
<text x="466.3" y="237.6" font-size="5.6" fill="#4D4D4D" text-anchor="middle">6,000</text>
<text x="210.3" y="178.4" font-size="5.6" fill="#4D4D4D" text-anchor="end">−2,000</text>
<text x="210.3" y="115.1" font-size="5.6" fill="#4D4D4D" text-anchor="end">0</text>
<text x="210.3" y="51.8" font-size="5.6" fill="#4D4D4D" text-anchor="end">2,000</text>
<text x="344.5" y="246.6" font-size="6.4" fill="#000" text-anchor="middle">PC1 (10.6% variance explained)</text>
<text transform="translate(192.7,117.4) rotate(-90)" font-size="6.4" fill="#000" text-anchor="middle">PC2 (7.4% variance explained)</text>
<circle cx="319.0" cy="11.9" r="2.25" fill="#A4154D"/>
<circle cx="322.3" cy="16.7" r="2.25" fill="#A4154D"/>
<circle cx="340.2" cy="44.8" r="2.25" fill="#A4154D"/>
<circle cx="314.6" cy="62.8" r="2.25" fill="#A4154D"/>
<circle cx="321.4" cy="65.0" r="2.25" fill="#A4154D"/>
<circle cx="322.8" cy="63.2" r="2.25" fill="#A4154D"/>
<circle cx="303.1" cy="74.6" r="2.25" fill="#A4154D"/>
<circle cx="340.8" cy="83.1" r="2.25" fill="#A4154D"/>
<rect x="292.75" y="35.65" width="4.5" height="4.5" fill="#1F8A43"/>
<rect x="307.95" y="50.85" width="4.5" height="4.5" fill="#1F8A43"/>
<rect x="329.05" y="49.25" width="4.5" height="4.5" fill="#1F8A43"/>
<rect x="345.05" y="56.45" width="4.5" height="4.5" fill="#1F8A43"/>
<rect x="344.45" y="63.150000000000006" width="4.5" height="4.5" fill="#1F8A43"/>
<rect x="353.35" y="63.55" width="4.5" height="4.5" fill="#1F8A43"/>
<rect x="361.45" y="76.55" width="4.5" height="4.5" fill="#1F8A43"/>
<rect x="371.55" y="75.65" width="4.5" height="4.5" fill="#1F8A43"/>
<rect x="367.55" y="87.55" width="4.5" height="4.5" fill="#1F8A43"/>
<rect x="317.15" y="104.05" width="4.5" height="4.5" fill="#1F8A43"/>
<rect x="294.45" y="109.65" width="4.5" height="4.5" fill="#1F8A43"/>
<rect x="348.45" y="111.75" width="4.5" height="4.5" fill="#1F8A43"/>
<rect x="352.95" y="121.55" width="4.5" height="4.5" fill="#1F8A43"/>
<rect x="353.95" y="151.25" width="4.5" height="4.5" fill="#1F8A43"/>
<path d="M463.7,127.39999999999999 L466.8,132.79999999999998 L460.59999999999997,132.79999999999998 Z" fill="#E5A91E"/>
<path d="M462.7,131.8 L465.8,137.2 L459.59999999999997,137.2 Z" fill="#E5A91E"/>
<path d="M455.4,136.0 L458.5,141.39999999999998 L452.29999999999995,141.39999999999998 Z" fill="#E5A91E"/>
<path d="M424.2,161.3 L427.3,166.7 L421.09999999999997,166.7 Z" fill="#E5A91E"/>
<path d="M407.5,185.60000000000002 L410.6,191.0 L404.4,191.0 Z" fill="#E5A91E"/>
<path d="M429.6,185.60000000000002 L432.70000000000005,191.0 L426.5,191.0 Z" fill="#E5A91E"/>
<path d="M386.2,199.5 L389.3,204.89999999999998 L383.09999999999997,204.89999999999998 Z" fill="#E5A91E"/>
<path d="M248.8,172.7 H255.0 M251.9,169.6 V175.79999999999998" stroke="#7E7BB5" stroke-width="0.8" fill="none"/>
<path d="M277.09999999999997,179 H283.3 M280.2,175.9 V182.1" stroke="#7E7BB5" stroke-width="0.8" fill="none"/>
<path d="M309.5,191.3 H315.70000000000005 M312.6,188.20000000000002 V194.4" stroke="#7E7BB5" stroke-width="0.8" fill="none"/>
<path d="M289.0,211.8 H295.20000000000005 M292.1,208.70000000000002 V214.9" stroke="#7E7BB5" stroke-width="0.8" fill="none"/>
<path d="M221.70000000000002,215.6 H227.9 M224.8,212.5 V218.7" stroke="#7E7BB5" stroke-width="0.8" fill="none"/>
<path d="M228.1,220.3 H234.29999999999998 M231.2,217.20000000000002 V223.4" stroke="#7E7BB5" stroke-width="0.8" fill="none"/>
<text x="485" y="97" font-size="6.6" fill="#000">Cell_type</text>
<circle cx="490.2" cy="105.4" r="2.25" fill="#A4154D"/>
<path d="M490.2,112.3 L493.09999999999997,117.3 L487.3,117.3 Z" fill="#E5A91E"/>
<rect x="487.95" y="123.15" width="4.5" height="4.5" fill="#1F8A43"/>
<path d="M487.09999999999997,135.4 H493.3 M490.2,132.3 V138.5" stroke="#7E7BB5" stroke-width="0.8" fill="none"/>
<text x="498" y="107.30000000000001" font-size="5.2" fill="#000">Acinar</text>
<text x="498" y="117.2" font-size="5.2" fill="#000">Duct</text>
<text x="498" y="127.30000000000001" font-size="5.2" fill="#000">panIN</text>
<text x="498" y="137.3" font-size="5.2" fill="#000">PDAC</text>
<path d="M275.82,384.90V358.40H284.09V384.90 M267.55,384.90V349.90H279.95V358.40 M259.28,384.90V343.10H273.75V349.90 M251.01,384.90V339.50H266.52V343.10 M242.74,384.90V336.40H258.76V339.50 M234.47,384.90V333.80H250.75V336.40 M226.20,384.90V314.40H242.61V333.80 M292.36,384.90V349.60H300.63V384.90 M317.17,384.90V315.70H325.44V384.90 M333.71,384.90V341.60H341.98V384.90 M449.49,384.90V343.20H457.76V384.90 M441.22,384.90V342.30H453.62V343.20 M432.95,384.90V339.90H447.42V342.30 M424.68,384.90V336.60H440.19V339.90 M408.14,384.90V344.80H416.41V384.90 M399.87,384.90V338.30H412.27V344.80 M406.07,338.30V336.20H432.43V336.60 M391.60,384.90V328.20H419.25V336.20 M383.33,384.90V327.30H405.43V328.20 M375.06,384.90V324.20H394.38V327.30 M366.79,384.90V322.50H384.72V324.20 M358.52,384.90V320.80H375.75V322.50 M350.25,384.90V316.70H367.14V320.80 M337.85,341.60V309.20H358.69V316.70 M321.30,315.70V307.60H348.27V309.20 M308.90,384.90V306.60H334.79V307.60 M296.50,349.60V303.40H321.84V306.60 M234.41,314.40V294.60H309.17V303.40 M499.11,384.90V316.90H507.38V384.90 M490.84,384.90V309.30H503.25V316.90 M482.57,384.90V306.30H497.04V309.30 M474.30,384.90V301.40H489.81V306.30 M466.03,384.90V290.30H482.05V301.40 M271.79,294.60V257.20H474.04V290.30" stroke="#5A5A5A" stroke-width="0.75" fill="none"/>
<path d="M210.4,384.4V268.3" stroke="#5A5A5A" stroke-width="0.75" fill="none"/>
<line x1="206.8" y1="384.40" x2="210.4" y2="384.40" stroke="#5A5A5A" stroke-width="0.75"/>
<text transform="translate(196.4,384.40) rotate(90)" font-size="6.2" fill="#222" text-anchor="middle">0</text>
<line x1="206.8" y1="361.18" x2="210.4" y2="361.18" stroke="#5A5A5A" stroke-width="0.75"/>
<text transform="translate(196.4,361.18) rotate(90)" font-size="6.2" fill="#222" text-anchor="middle">100</text>
<line x1="206.8" y1="337.96" x2="210.4" y2="337.96" stroke="#5A5A5A" stroke-width="0.75"/>
<text transform="translate(196.4,337.96) rotate(90)" font-size="6.2" fill="#222" text-anchor="middle">200</text>
<line x1="206.8" y1="314.74" x2="210.4" y2="314.74" stroke="#5A5A5A" stroke-width="0.75"/>
<text transform="translate(196.4,314.74) rotate(90)" font-size="6.2" fill="#222" text-anchor="middle">300</text>
<line x1="206.8" y1="291.52" x2="210.4" y2="291.52" stroke="#5A5A5A" stroke-width="0.75"/>
<text transform="translate(196.4,291.52) rotate(90)" font-size="6.2" fill="#222" text-anchor="middle">400</text>
<line x1="206.8" y1="268.30" x2="210.4" y2="268.30" stroke="#5A5A5A" stroke-width="0.75"/>
<text transform="translate(196.4,268.30) rotate(90)" font-size="6.2" fill="#222" text-anchor="middle">500</text>
<text transform="translate(224.00,389.2) rotate(90)" font-size="6.1" fill="#3DA83F">PanIN_BF3</text>
<text transform="translate(232.27,389.2) rotate(90)" font-size="6.1" fill="#E3B127">Duct_B1</text>
<text transform="translate(240.54,389.2) rotate(90)" font-size="6.1" fill="#E3B127">Duct_B4</text>
<text transform="translate(248.81,389.2) rotate(90)" font-size="6.1" fill="#E3B127">Duct_B3</text>
<text transform="translate(257.08,389.2) rotate(90)" font-size="6.1" fill="#E3B127">Duct_B2</text>
<text transform="translate(265.35,389.2) rotate(90)" font-size="6.1" fill="#E3B127">Duct_A0</text>
<text transform="translate(273.62,389.2) rotate(90)" font-size="6.1" fill="#E3B127">Duct_A1</text>
<text transform="translate(281.89,389.2) rotate(90)" font-size="6.1" fill="#E3B127">Duct_A2</text>
<text transform="translate(290.16,389.2) rotate(90)" font-size="6.1" fill="#3DA83F">PanIN_A2a-2</text>
<text transform="translate(298.43,389.2) rotate(90)" font-size="6.1" fill="#3DA83F">PanIN_A2b-1</text>
<text transform="translate(306.70,389.2) rotate(90)" font-size="6.1" fill="#3DA83F">PanIN_A1-1</text>
<text transform="translate(314.97,389.2) rotate(90)" font-size="6.1" fill="#3DA83F">PanIN_A2a-1</text>
<text transform="translate(323.24,389.2) rotate(90)" font-size="6.1" fill="#3DA83F">PanIN_A2b-2</text>
<text transform="translate(331.51,389.2) rotate(90)" font-size="6.1" fill="#3DA83F">PanIN_A2a-3</text>
<text transform="translate(339.78,389.2) rotate(90)" font-size="6.1" fill="#3DA83F">PanIN_A2b-3</text>
<text transform="translate(348.05,389.2) rotate(90)" font-size="6.1" fill="#6A4BB5">PDAC_BF1</text>
<text transform="translate(356.32,389.2) rotate(90)" font-size="6.1" fill="#3DA83F">PanIN_BF2</text>
<text transform="translate(364.59,389.2) rotate(90)" font-size="6.1" fill="#3DA83F">PanIN_BM1</text>
<text transform="translate(372.86,389.2) rotate(90)" font-size="6.1" fill="#6A4BB5">PDAC_BM3</text>
<text transform="translate(381.13,389.2) rotate(90)" font-size="6.1" fill="#3DA83F">PanIN_A1-3</text>
<text transform="translate(389.40,389.2) rotate(90)" font-size="6.1" fill="#3DA83F">PanIN_BF1</text>
<text transform="translate(397.67,389.2) rotate(90)" font-size="6.1" fill="#D4286A">Acinar_BM3</text>
<text transform="translate(405.94,389.2) rotate(90)" font-size="6.1" fill="#D4286A">Acinar_A1</text>
<text transform="translate(414.21,389.2) rotate(90)" font-size="6.1" fill="#D4286A">Acinar_A2</text>
<text transform="translate(422.48,389.2) rotate(90)" font-size="6.1" fill="#D4286A">Acinar_BF3</text>
<text transform="translate(430.75,389.2) rotate(90)" font-size="6.1" fill="#D4286A">Acinar_A0</text>
<text transform="translate(439.02,389.2) rotate(90)" font-size="6.1" fill="#D4286A">Acinar_BF1</text>
<text transform="translate(447.29,389.2) rotate(90)" font-size="6.1" fill="#D4286A">Acinar_BF2</text>
<text transform="translate(455.56,389.2) rotate(90)" font-size="6.1" fill="#D4286A">Acinar_BM1</text>
<text transform="translate(463.83,389.2) rotate(90)" font-size="6.1" fill="#6A4BB5">PDAC_BM2</text>
<text transform="translate(472.10,389.2) rotate(90)" font-size="6.1" fill="#3DA83F">PanIN_A1-2</text>
<text transform="translate(480.37,389.2) rotate(90)" font-size="6.1" fill="#3DA83F">PanIN_BM3</text>
<text transform="translate(488.64,389.2) rotate(90)" font-size="6.1" fill="#6A4BB5">PDAC_BF2</text>
<text transform="translate(496.91,389.2) rotate(90)" font-size="6.1" fill="#6A4BB5">PDAC_BF3</text>
<text transform="translate(505.18,389.2) rotate(90)" font-size="6.1" fill="#6A4BB5">PDAC_BM1</text>
<path d="M17.2,448 V563.1 H260" stroke="#333" stroke-width="0.8" fill="none"/>
<line x1="15.4" y1="561.3" x2="17.2" y2="561.3" stroke="#333" stroke-width="0.5"/>
<text transform="translate(14.6,561.3) rotate(-90)" font-size="4.5" fill="#1a1a1a" text-anchor="middle">0</text>
<line x1="15.4" y1="522.8" x2="17.2" y2="522.8" stroke="#333" stroke-width="0.5"/>
<text transform="translate(14.6,522.8) rotate(-90)" font-size="4.5" fill="#1a1a1a" text-anchor="middle">2</text>
<line x1="15.4" y1="484.29999999999995" x2="17.2" y2="484.29999999999995" stroke="#333" stroke-width="0.5"/>
<text transform="translate(14.6,484.29999999999995) rotate(-90)" font-size="4.5" fill="#1a1a1a" text-anchor="middle">4</text>
<line x1="22.3" y1="563.1" x2="22.3" y2="564.8" stroke="#333" stroke-width="0.5"/>
<text x="22.3" y="569" font-size="4.5" fill="#1a1a1a" text-anchor="middle">0.00</text>
<line x1="80.475" y1="563.1" x2="80.475" y2="564.8" stroke="#333" stroke-width="0.5"/>
<text x="80.475" y="569" font-size="4.5" fill="#1a1a1a" text-anchor="middle">0.25</text>
<line x1="138.65" y1="563.1" x2="138.65" y2="564.8" stroke="#333" stroke-width="0.5"/>
<text x="138.65" y="569" font-size="4.5" fill="#1a1a1a" text-anchor="middle">0.50</text>
<line x1="196.825" y1="563.1" x2="196.825" y2="564.8" stroke="#333" stroke-width="0.5"/>
<text x="196.825" y="569" font-size="4.5" fill="#1a1a1a" text-anchor="middle">0.75</text>
<line x1="255.0" y1="563.1" x2="255.0" y2="564.8" stroke="#333" stroke-width="0.5"/>
<text x="255.0" y="569" font-size="4.5" fill="#1a1a1a" text-anchor="middle">1.00</text>
<text x="138.7" y="577" font-size="5.6" fill="#000" text-anchor="middle">MML</text>
<text transform="translate(8.6,505.7) rotate(-90)" font-size="5.6" fill="#000" text-anchor="middle">Density</text>
<path d="M276.6,448.7 V563.1 H516" stroke="#333" stroke-width="0.8" fill="none"/>
<line x1="274.8" y1="560.5" x2="276.6" y2="560.5" stroke="#333" stroke-width="0.5"/>
<text transform="translate(274,560.5) rotate(-90)" font-size="4.5" fill="#1a1a1a" text-anchor="middle">0</text>
<line x1="274.8" y1="527.5" x2="276.6" y2="527.5" stroke="#333" stroke-width="0.5"/>
<text transform="translate(274,527.5) rotate(-90)" font-size="4.5" fill="#1a1a1a" text-anchor="middle">1</text>
<line x1="274.8" y1="494.5" x2="276.6" y2="494.5" stroke="#333" stroke-width="0.5"/>
<text transform="translate(274,494.5) rotate(-90)" font-size="4.5" fill="#1a1a1a" text-anchor="middle">2</text>
<line x1="274.8" y1="461.5" x2="276.6" y2="461.5" stroke="#333" stroke-width="0.5"/>
<text transform="translate(274,461.5) rotate(-90)" font-size="4.5" fill="#1a1a1a" text-anchor="middle">3</text>
<line x1="281.6" y1="563.1" x2="281.6" y2="564.8" stroke="#333" stroke-width="0.5"/>
<text x="281.6" y="569" font-size="4.5" fill="#1a1a1a" text-anchor="middle">0.00</text>
<line x1="339.40000000000003" y1="563.1" x2="339.40000000000003" y2="564.8" stroke="#333" stroke-width="0.5"/>
<text x="339.40000000000003" y="569" font-size="4.5" fill="#1a1a1a" text-anchor="middle">0.25</text>
<line x1="397.20000000000005" y1="563.1" x2="397.20000000000005" y2="564.8" stroke="#333" stroke-width="0.5"/>
<text x="397.20000000000005" y="569" font-size="4.5" fill="#1a1a1a" text-anchor="middle">0.50</text>
<line x1="455.0" y1="563.1" x2="455.0" y2="564.8" stroke="#333" stroke-width="0.5"/>
<text x="455.0" y="569" font-size="4.5" fill="#1a1a1a" text-anchor="middle">0.75</text>
<line x1="512.8" y1="563.1" x2="512.8" y2="564.8" stroke="#333" stroke-width="0.5"/>
<text x="512.8" y="569" font-size="4.5" fill="#1a1a1a" text-anchor="middle">1.00</text>
<text x="397.4" y="576.6" font-size="5.6" fill="#000" text-anchor="middle">NME</text>
<text transform="translate(268.6,506) rotate(-90)" font-size="5.6" fill="#000" text-anchor="middle">Density</text>
<path d="M22.30,560.60 L22.30,556.00 L23.27,556.88 L24.25,557.69 L25.22,558.37 L26.19,558.84 L27.17,559.10 L28.14,559.28 L29.12,559.42 L30.09,559.56 L31.06,559.68 L32.04,559.79 L33.01,559.88 L33.98,559.97 L34.96,560.03 L35.93,560.09 L36.90,560.14 L37.88,560.17 L38.85,560.19 L39.83,560.20 L40.80,560.20 L41.77,560.20 L42.75,560.20 L43.72,560.19 L44.69,560.19 L45.67,560.19 L46.64,560.18 L47.61,560.18 L48.59,560.17 L49.56,560.17 L50.54,560.16 L51.51,560.15 L52.48,560.14 L53.46,560.13 L54.43,560.12 L55.40,560.11 L56.38,560.10 L57.35,560.09 L58.32,560.08 L59.30,560.06 L60.27,560.05 L61.25,560.03 L62.22,560.02 L63.19,560.00 L64.17,559.99 L65.14,559.97 L66.11,559.95 L67.09,559.93 L68.06,559.92 L69.03,559.90 L70.01,559.88 L70.98,559.86 L71.96,559.83 L72.93,559.81 L73.90,559.79 L74.88,559.77 L75.85,559.74 L76.82,559.72 L77.80,559.70 L78.77,559.67 L79.74,559.65 L80.72,559.62 L81.69,559.59 L82.67,559.57 L83.64,559.54 L84.61,559.51 L85.59,559.48 L86.56,559.45 L87.53,559.42 L88.51,559.39 L89.48,559.36 L90.45,559.33 L91.43,559.30 L92.40,559.27 L93.38,559.23 L94.35,559.20 L95.32,559.17 L96.30,559.13 L97.27,559.10 L98.24,559.06 L99.22,559.03 L100.19,558.99 L101.16,558.95 L102.14,558.90 L103.11,558.84 L104.09,558.78 L105.06,558.70 L106.03,558.63 L107.01,558.54 L107.98,558.44 L108.95,558.34 L109.93,558.24 L110.90,558.12 L111.87,558.00 L112.85,557.88 L113.82,557.74 L114.80,557.61 L115.77,557.46 L116.74,557.31 L117.72,557.16 L118.69,557.00 L119.66,556.83 L120.64,556.66 L121.61,556.49 L122.58,556.31 L123.56,556.12 L124.53,555.93 L125.51,555.74 L126.48,555.54 L127.45,555.34 L128.43,555.14 L129.40,554.93 L130.37,554.72 L131.35,554.51 L132.32,554.29 L133.29,554.07 L134.27,553.85 L135.24,553.62 L136.22,553.39 L137.19,553.16 L138.16,552.93 L139.14,552.70 L140.11,552.46 L141.08,552.22 L142.06,551.98 L143.03,551.74 L144.01,551.50 L144.98,551.26 L145.95,551.02 L146.93,550.77 L147.90,550.53 L148.87,550.28 L149.85,550.04 L150.82,549.79 L151.79,549.53 L152.77,549.27 L153.74,548.99 L154.72,548.71 L155.69,548.43 L156.66,548.13 L157.64,547.82 L158.61,547.51 L159.58,547.19 L160.56,546.87 L161.53,546.53 L162.50,546.19 L163.48,545.84 L164.45,545.49 L165.43,545.13 L166.40,544.76 L167.37,544.38 L168.35,544.00 L169.32,543.61 L170.29,543.22 L171.27,542.82 L172.24,542.41 L173.21,541.99 L174.19,541.57 L175.16,541.15 L176.14,540.72 L177.11,540.28 L178.08,539.84 L179.06,539.39 L180.03,538.94 L181.00,538.48 L181.98,538.01 L182.95,537.54 L183.92,537.07 L184.90,536.59 L185.87,536.10 L186.85,535.61 L187.82,535.12 L188.79,534.62 L189.77,534.12 L190.74,533.60 L191.71,533.07 L192.69,532.51 L193.66,531.93 L194.63,531.34 L195.61,530.72 L196.58,530.09 L197.56,529.44 L198.53,528.77 L199.50,528.09 L200.48,527.39 L201.45,526.68 L202.42,525.96 L203.40,525.23 L204.37,524.48 L205.34,523.73 L206.32,522.96 L207.29,522.17 L208.27,521.35 L209.24,520.47 L210.21,519.51 L211.19,518.47 L212.16,517.32 L213.13,516.05 L214.11,514.69 L215.08,513.24 L216.05,511.70 L217.03,510.10 L218.00,508.44 L218.98,506.74 L219.95,505.01 L220.92,503.26 L221.90,501.49 L222.87,499.73 L223.84,497.95 L224.82,496.12 L225.79,494.21 L226.76,492.25 L227.74,490.24 L228.71,488.23 L229.69,486.22 L230.66,484.24 L231.63,482.31 L232.61,480.44 L233.58,478.61 L234.55,476.76 L235.53,474.94 L236.50,473.22 L237.47,471.70 L238.45,470.43 L239.42,469.36 L240.40,468.44 L241.37,467.76 L242.34,467.47 L243.32,467.64 L244.29,468.21 L245.26,469.17 L246.24,470.76 L247.21,473.71 L248.18,478.35 L249.16,484.70 L250.13,493.13 L251.11,503.18 L252.08,513.46 L253.05,523.38 L254.03,533.30 L255.00,544.20 L255.00,560.60 Z" fill="#EEC43E" /><path d="M22.30,556.00 L23.27,556.88 L24.25,557.69 L25.22,558.37 L26.19,558.84 L27.17,559.10 L28.14,559.28 L29.12,559.42 L30.09,559.56 L31.06,559.68 L32.04,559.79 L33.01,559.88 L33.98,559.97 L34.96,560.03 L35.93,560.09 L36.90,560.14 L37.88,560.17 L38.85,560.19 L39.83,560.20 L40.80,560.20 L41.77,560.20 L42.75,560.20 L43.72,560.19 L44.69,560.19 L45.67,560.19 L46.64,560.18 L47.61,560.18 L48.59,560.17 L49.56,560.17 L50.54,560.16 L51.51,560.15 L52.48,560.14 L53.46,560.13 L54.43,560.12 L55.40,560.11 L56.38,560.10 L57.35,560.09 L58.32,560.08 L59.30,560.06 L60.27,560.05 L61.25,560.03 L62.22,560.02 L63.19,560.00 L64.17,559.99 L65.14,559.97 L66.11,559.95 L67.09,559.93 L68.06,559.92 L69.03,559.90 L70.01,559.88 L70.98,559.86 L71.96,559.83 L72.93,559.81 L73.90,559.79 L74.88,559.77 L75.85,559.74 L76.82,559.72 L77.80,559.70 L78.77,559.67 L79.74,559.65 L80.72,559.62 L81.69,559.59 L82.67,559.57 L83.64,559.54 L84.61,559.51 L85.59,559.48 L86.56,559.45 L87.53,559.42 L88.51,559.39 L89.48,559.36 L90.45,559.33 L91.43,559.30 L92.40,559.27 L93.38,559.23 L94.35,559.20 L95.32,559.17 L96.30,559.13 L97.27,559.10 L98.24,559.06 L99.22,559.03 L100.19,558.99 L101.16,558.95 L102.14,558.90 L103.11,558.84 L104.09,558.78 L105.06,558.70 L106.03,558.63 L107.01,558.54 L107.98,558.44 L108.95,558.34 L109.93,558.24 L110.90,558.12 L111.87,558.00 L112.85,557.88 L113.82,557.74 L114.80,557.61 L115.77,557.46 L116.74,557.31 L117.72,557.16 L118.69,557.00 L119.66,556.83 L120.64,556.66 L121.61,556.49 L122.58,556.31 L123.56,556.12 L124.53,555.93 L125.51,555.74 L126.48,555.54 L127.45,555.34 L128.43,555.14 L129.40,554.93 L130.37,554.72 L131.35,554.51 L132.32,554.29 L133.29,554.07 L134.27,553.85 L135.24,553.62 L136.22,553.39 L137.19,553.16 L138.16,552.93 L139.14,552.70 L140.11,552.46 L141.08,552.22 L142.06,551.98 L143.03,551.74 L144.01,551.50 L144.98,551.26 L145.95,551.02 L146.93,550.77 L147.90,550.53 L148.87,550.28 L149.85,550.04 L150.82,549.79 L151.79,549.53 L152.77,549.27 L153.74,548.99 L154.72,548.71 L155.69,548.43 L156.66,548.13 L157.64,547.82 L158.61,547.51 L159.58,547.19 L160.56,546.87 L161.53,546.53 L162.50,546.19 L163.48,545.84 L164.45,545.49 L165.43,545.13 L166.40,544.76 L167.37,544.38 L168.35,544.00 L169.32,543.61 L170.29,543.22 L171.27,542.82 L172.24,542.41 L173.21,541.99 L174.19,541.57 L175.16,541.15 L176.14,540.72 L177.11,540.28 L178.08,539.84 L179.06,539.39 L180.03,538.94 L181.00,538.48 L181.98,538.01 L182.95,537.54 L183.92,537.07 L184.90,536.59 L185.87,536.10 L186.85,535.61 L187.82,535.12 L188.79,534.62 L189.77,534.12 L190.74,533.60 L191.71,533.07 L192.69,532.51 L193.66,531.93 L194.63,531.34 L195.61,530.72 L196.58,530.09 L197.56,529.44 L198.53,528.77 L199.50,528.09 L200.48,527.39 L201.45,526.68 L202.42,525.96 L203.40,525.23 L204.37,524.48 L205.34,523.73 L206.32,522.96 L207.29,522.17 L208.27,521.35 L209.24,520.47 L210.21,519.51 L211.19,518.47 L212.16,517.32 L213.13,516.05 L214.11,514.69 L215.08,513.24 L216.05,511.70 L217.03,510.10 L218.00,508.44 L218.98,506.74 L219.95,505.01 L220.92,503.26 L221.90,501.49 L222.87,499.73 L223.84,497.95 L224.82,496.12 L225.79,494.21 L226.76,492.25 L227.74,490.24 L228.71,488.23 L229.69,486.22 L230.66,484.24 L231.63,482.31 L232.61,480.44 L233.58,478.61 L234.55,476.76 L235.53,474.94 L236.50,473.22 L237.47,471.70 L238.45,470.43 L239.42,469.36 L240.40,468.44 L241.37,467.76 L242.34,467.47 L243.32,467.64 L244.29,468.21 L245.26,469.17 L246.24,470.76 L247.21,473.71 L248.18,478.35 L249.16,484.70 L250.13,493.13 L251.11,503.18 L252.08,513.46 L253.05,523.38 L254.03,533.30 L255.00,544.20" fill="none" stroke="#3a3014" stroke-width="0.55" stroke-linejoin="round"/>
<path d="M22.30,560.60 L22.30,556.00 L23.27,556.88 L24.25,557.69 L25.22,558.37 L26.19,558.84 L27.17,559.10 L28.14,559.28 L29.12,559.42 L30.09,559.56 L31.06,559.68 L32.04,559.79 L33.01,559.88 L33.98,559.97 L34.96,560.03 L35.93,560.09 L36.90,560.14 L37.88,560.17 L38.85,560.19 L39.83,560.20 L40.80,560.20 L41.77,560.20 L42.75,560.20 L43.72,560.19 L44.69,560.19 L45.67,560.19 L46.64,560.18 L47.61,560.18 L48.59,560.17 L49.56,560.17 L50.54,560.16 L51.51,560.15 L52.48,560.14 L53.46,560.14 L54.43,560.13 L55.40,560.12 L56.38,560.10 L57.35,560.09 L58.32,560.08 L59.30,560.07 L60.27,560.05 L61.25,560.04 L62.22,560.03 L63.19,560.01 L64.17,559.99 L65.14,559.98 L66.11,559.96 L67.09,559.94 L68.06,559.92 L69.03,559.91 L70.01,559.89 L70.98,559.87 L71.96,559.84 L72.93,559.82 L73.90,559.80 L74.88,559.78 L75.85,559.76 L76.82,559.73 L77.80,559.71 L78.77,559.68 L79.74,559.66 L80.72,559.63 L81.69,559.60 L82.67,559.58 L83.64,559.55 L84.61,559.52 L85.59,559.49 L86.56,559.46 L87.53,559.43 L88.51,559.40 L89.48,559.37 L90.45,559.34 L91.43,559.31 L92.40,559.27 L93.38,559.24 L94.35,559.21 L95.32,559.17 L96.30,559.14 L97.27,559.10 L98.24,559.07 L99.22,559.03 L100.19,558.99 L101.16,558.94 L102.14,558.88 L103.11,558.80 L104.09,558.72 L105.06,558.61 L106.03,558.50 L107.01,558.37 L107.98,558.23 L108.95,558.08 L109.93,557.92 L110.90,557.75 L111.87,557.56 L112.85,557.37 L113.82,557.17 L114.80,556.96 L115.77,556.73 L116.74,556.50 L117.72,556.26 L118.69,556.02 L119.66,555.76 L120.64,555.50 L121.61,555.23 L122.58,554.95 L123.56,554.67 L124.53,554.39 L125.51,554.09 L126.48,553.79 L127.45,553.49 L128.43,553.18 L129.40,552.87 L130.37,552.56 L131.35,552.24 L132.32,551.92 L133.29,551.59 L134.27,551.27 L135.24,550.94 L136.22,550.61 L137.19,550.28 L138.16,549.95 L139.14,549.62 L140.11,549.29 L141.08,548.96 L142.06,548.62 L143.03,548.30 L144.01,547.97 L144.98,547.64 L145.95,547.32 L146.93,547.00 L147.90,546.68 L148.87,546.36 L149.85,546.05 L150.82,545.74 L151.79,545.42 L152.77,545.10 L153.74,544.78 L154.72,544.45 L155.69,544.11 L156.66,543.78 L157.64,543.44 L158.61,543.09 L159.58,542.74 L160.56,542.38 L161.53,542.03 L162.50,541.66 L163.48,541.30 L164.45,540.93 L165.43,540.55 L166.40,540.18 L167.37,539.79 L168.35,539.41 L169.32,539.02 L170.29,538.63 L171.27,538.23 L172.24,537.83 L173.21,537.43 L174.19,537.02 L175.16,536.61 L176.14,536.20 L177.11,535.79 L178.08,535.37 L179.06,534.94 L180.03,534.52 L181.00,534.09 L181.98,533.66 L182.95,533.22 L183.92,532.79 L184.90,532.35 L185.87,531.91 L186.85,531.46 L187.82,531.01 L188.79,530.56 L189.77,530.11 L190.74,529.64 L191.71,529.16 L192.69,528.66 L193.66,528.14 L194.63,527.62 L195.61,527.08 L196.58,526.54 L197.56,525.99 L198.53,525.44 L199.50,524.90 L200.48,524.36 L201.45,523.82 L202.42,523.30 L203.40,522.80 L204.37,522.31 L205.34,521.84 L206.32,521.40 L207.29,520.96 L208.27,520.54 L209.24,520.12 L210.21,519.69 L211.19,519.26 L212.16,518.83 L213.13,518.41 L214.11,517.99 L215.08,517.57 L216.05,517.16 L217.03,516.73 L218.00,516.30 L218.98,515.87 L219.95,515.41 L220.92,514.94 L221.90,514.45 L222.87,513.94 L223.84,513.39 L224.82,512.80 L225.79,512.17 L226.76,511.50 L227.74,510.81 L228.71,510.10 L229.69,509.39 L230.66,508.67 L231.63,507.96 L232.61,507.27 L233.58,506.57 L234.55,505.85 L235.53,505.09 L236.50,504.34 L237.47,503.63 L238.45,503.00 L239.42,502.47 L240.40,502.07 L241.37,501.77 L242.34,501.56 L243.32,501.50 L244.29,501.73 L245.26,502.32 L246.24,503.25 L247.21,504.66 L248.18,507.00 L249.16,510.42 L250.13,514.68 L251.11,519.78 L252.08,525.66 L253.05,532.01 L254.03,538.67 L255.00,546.00 L255.00,560.60 Z" fill="#4DA244" /><path d="M22.30,556.00 L23.27,556.88 L24.25,557.69 L25.22,558.37 L26.19,558.84 L27.17,559.10 L28.14,559.28 L29.12,559.42 L30.09,559.56 L31.06,559.68 L32.04,559.79 L33.01,559.88 L33.98,559.97 L34.96,560.03 L35.93,560.09 L36.90,560.14 L37.88,560.17 L38.85,560.19 L39.83,560.20 L40.80,560.20 L41.77,560.20 L42.75,560.20 L43.72,560.19 L44.69,560.19 L45.67,560.19 L46.64,560.18 L47.61,560.18 L48.59,560.17 L49.56,560.17 L50.54,560.16 L51.51,560.15 L52.48,560.14 L53.46,560.14 L54.43,560.13 L55.40,560.12 L56.38,560.10 L57.35,560.09 L58.32,560.08 L59.30,560.07 L60.27,560.05 L61.25,560.04 L62.22,560.03 L63.19,560.01 L64.17,559.99 L65.14,559.98 L66.11,559.96 L67.09,559.94 L68.06,559.92 L69.03,559.91 L70.01,559.89 L70.98,559.87 L71.96,559.84 L72.93,559.82 L73.90,559.80 L74.88,559.78 L75.85,559.76 L76.82,559.73 L77.80,559.71 L78.77,559.68 L79.74,559.66 L80.72,559.63 L81.69,559.60 L82.67,559.58 L83.64,559.55 L84.61,559.52 L85.59,559.49 L86.56,559.46 L87.53,559.43 L88.51,559.40 L89.48,559.37 L90.45,559.34 L91.43,559.31 L92.40,559.27 L93.38,559.24 L94.35,559.21 L95.32,559.17 L96.30,559.14 L97.27,559.10 L98.24,559.07 L99.22,559.03 L100.19,558.99 L101.16,558.94 L102.14,558.88 L103.11,558.80 L104.09,558.72 L105.06,558.61 L106.03,558.50 L107.01,558.37 L107.98,558.23 L108.95,558.08 L109.93,557.92 L110.90,557.75 L111.87,557.56 L112.85,557.37 L113.82,557.17 L114.80,556.96 L115.77,556.73 L116.74,556.50 L117.72,556.26 L118.69,556.02 L119.66,555.76 L120.64,555.50 L121.61,555.23 L122.58,554.95 L123.56,554.67 L124.53,554.39 L125.51,554.09 L126.48,553.79 L127.45,553.49 L128.43,553.18 L129.40,552.87 L130.37,552.56 L131.35,552.24 L132.32,551.92 L133.29,551.59 L134.27,551.27 L135.24,550.94 L136.22,550.61 L137.19,550.28 L138.16,549.95 L139.14,549.62 L140.11,549.29 L141.08,548.96 L142.06,548.62 L143.03,548.30 L144.01,547.97 L144.98,547.64 L145.95,547.32 L146.93,547.00 L147.90,546.68 L148.87,546.36 L149.85,546.05 L150.82,545.74 L151.79,545.42 L152.77,545.10 L153.74,544.78 L154.72,544.45 L155.69,544.11 L156.66,543.78 L157.64,543.44 L158.61,543.09 L159.58,542.74 L160.56,542.38 L161.53,542.03 L162.50,541.66 L163.48,541.30 L164.45,540.93 L165.43,540.55 L166.40,540.18 L167.37,539.79 L168.35,539.41 L169.32,539.02 L170.29,538.63 L171.27,538.23 L172.24,537.83 L173.21,537.43 L174.19,537.02 L175.16,536.61 L176.14,536.20 L177.11,535.79 L178.08,535.37 L179.06,534.94 L180.03,534.52 L181.00,534.09 L181.98,533.66 L182.95,533.22 L183.92,532.79 L184.90,532.35 L185.87,531.91 L186.85,531.46 L187.82,531.01 L188.79,530.56 L189.77,530.11 L190.74,529.64 L191.71,529.16 L192.69,528.66 L193.66,528.14 L194.63,527.62 L195.61,527.08 L196.58,526.54 L197.56,525.99 L198.53,525.44 L199.50,524.90 L200.48,524.36 L201.45,523.82 L202.42,523.30 L203.40,522.80 L204.37,522.31 L205.34,521.84 L206.32,521.40 L207.29,520.96 L208.27,520.54 L209.24,520.12 L210.21,519.69 L211.19,519.26 L212.16,518.83 L213.13,518.41 L214.11,517.99 L215.08,517.57 L216.05,517.16 L217.03,516.73 L218.00,516.30 L218.98,515.87 L219.95,515.41 L220.92,514.94 L221.90,514.45 L222.87,513.94 L223.84,513.39 L224.82,512.80 L225.79,512.17 L226.76,511.50 L227.74,510.81 L228.71,510.10 L229.69,509.39 L230.66,508.67 L231.63,507.96 L232.61,507.27 L233.58,506.57 L234.55,505.85 L235.53,505.09 L236.50,504.34 L237.47,503.63 L238.45,503.00 L239.42,502.47 L240.40,502.07 L241.37,501.77 L242.34,501.56 L243.32,501.50 L244.29,501.73 L245.26,502.32 L246.24,503.25 L247.21,504.66 L248.18,507.00 L249.16,510.42 L250.13,514.68 L251.11,519.78 L252.08,525.66 L253.05,532.01 L254.03,538.67 L255.00,546.00" fill="none" stroke="#1a3a16" stroke-width="0.55" stroke-linejoin="round"/>
<path d="M22.30,560.60 L22.30,555.20 L23.08,555.16 L23.86,555.66 L24.63,556.66 L25.41,557.56 L26.19,558.35 L26.97,559.00 L27.75,559.48 L28.53,559.83 L29.30,560.07 L30.08,560.26 L30.86,560.39 L31.64,560.50 L32.42,560.57 L33.20,560.60 L33.97,560.60 L34.75,560.60 L35.53,560.60 L36.31,560.60 L37.09,560.60 L37.87,560.60 L38.64,560.60 L39.42,560.60 L40.20,560.60 L40.98,560.60 L41.76,560.60 L42.53,560.60 L43.31,560.60 L44.09,560.60 L44.87,560.60 L45.65,560.60 L46.43,560.60 L47.20,560.60 L47.98,560.60 L48.76,560.60 L49.54,560.60 L50.32,560.60 L51.10,560.60 L51.87,560.60 L52.65,560.60 L53.43,560.60 L54.21,560.60 L54.99,560.60 L55.77,560.60 L56.54,560.60 L57.32,560.60 L58.10,560.60 L58.88,560.60 L59.66,560.60 L60.43,560.60 L61.21,560.60 L61.99,560.60 L62.77,560.60 L63.55,560.60 L64.33,560.60 L65.10,560.60 L65.88,560.60 L66.66,560.60 L67.44,560.60 L68.22,560.60 L69.00,560.60 L69.77,560.60 L70.55,560.56 L71.33,560.50 L72.11,560.44 L72.89,560.37 L73.67,560.29 L74.44,560.21 L75.22,560.12 L76.00,560.02 L76.78,559.92 L77.56,559.82 L78.33,559.72 L79.11,559.62 L79.89,559.51 L80.67,559.41 L81.45,559.30 L82.23,559.18 L83.00,559.07 L83.78,558.95 L84.56,558.82 L85.34,558.70 L86.12,558.57 L86.90,558.44 L87.67,558.31 L88.45,558.17 L89.23,558.03 L90.01,557.89 L90.79,557.75 L91.57,557.61 L92.34,557.46 L93.12,557.31 L93.90,557.16 L94.68,557.01 L95.46,556.85 L96.23,556.69 L97.01,556.53 L97.79,556.37 L98.57,556.20 L99.35,556.04 L100.13,555.87 L100.90,555.70 L101.68,555.53 L102.46,555.36 L103.24,555.19 L104.02,555.01 L104.80,554.83 L105.57,554.65 L106.35,554.47 L107.13,554.29 L107.91,554.10 L108.69,553.92 L109.47,553.73 L110.24,553.54 L111.02,553.34 L111.80,553.15 L112.58,552.95 L113.36,552.75 L114.13,552.55 L114.91,552.35 L115.69,552.14 L116.47,551.94 L117.25,551.73 L118.03,551.52 L118.80,551.32 L119.58,551.11 L120.36,550.90 L121.14,550.70 L121.92,550.49 L122.70,550.28 L123.47,550.08 L124.25,549.87 L125.03,549.66 L125.81,549.45 L126.59,549.24 L127.37,549.03 L128.14,548.81 L128.92,548.60 L129.70,548.38 L130.48,548.16 L131.26,547.94 L132.03,547.72 L132.81,547.50 L133.59,547.28 L134.37,547.05 L135.15,546.82 L135.93,546.60 L136.70,546.37 L137.48,546.14 L138.26,545.91 L139.04,545.68 L139.82,545.45 L140.60,545.22 L141.37,544.99 L142.15,544.76 L142.93,544.53 L143.71,544.30 L144.49,544.07 L145.27,543.84 L146.04,543.60 L146.82,543.37 L147.60,543.13 L148.38,542.90 L149.16,542.66 L149.93,542.42 L150.71,542.18 L151.49,541.93 L152.27,541.69 L153.05,541.44 L153.83,541.20 L154.60,540.95 L155.38,540.64 L156.16,540.27 L156.94,539.89 L157.72,539.52 L158.50,539.14 L159.27,538.77 L160.05,538.39 L160.83,538.01 L161.61,537.63 L162.39,537.25 L163.17,536.86 L163.94,536.48 L164.72,536.09 L165.50,535.70 L166.28,535.32 L167.06,534.93 L167.83,534.54 L168.61,534.15 L169.39,533.76 L170.17,533.37 L170.95,532.97 L171.73,532.58 L172.50,532.19 L173.28,531.79 L174.06,531.40 L174.84,531.00 L175.62,530.61 L176.40,530.21 L177.17,529.82 L177.95,529.42 L178.73,529.13 L179.51,528.86 L180.29,528.58 L181.07,528.30 L181.84,528.02 L182.62,527.75 L183.40,527.47 L184.18,527.20 L184.96,526.93 L185.73,526.65 L186.51,526.38 L187.29,526.11 L188.07,525.84 L188.85,525.57 L189.63,525.30 L190.40,525.03 L191.18,524.76 L191.96,524.49 L192.74,524.22 L193.52,523.96 L194.30,523.69 L195.07,523.42 L195.85,523.16 L196.63,522.89 L197.41,522.63 L198.19,522.37 L198.97,522.11 L199.74,521.84 L200.52,521.58 L201.30,521.33 L202.08,521.07 L202.86,520.81 L203.63,520.56 L204.41,520.30 L205.19,520.05 L205.97,519.79 L206.75,519.54 L207.53,519.28 L208.30,519.02 L209.08,518.75 L209.86,518.49 L210.64,518.22 L211.42,517.95 L212.20,517.67 L212.97,517.40 L213.75,517.12 L214.53,517.06 L215.31,517.12 L216.09,517.17 L216.87,517.21 L217.64,517.26 L218.42,517.31 L219.20,517.35 L219.98,517.39 L220.76,517.42 L221.53,517.45 L222.31,517.47 L223.09,517.49 L223.87,517.50 L224.65,517.52 L225.43,517.54 L226.20,517.48 L226.98,517.20 L227.76,516.92 L228.54,516.66 L229.32,516.42 L230.10,516.18 L230.87,515.96 L231.65,515.74 L232.43,515.55 L233.21,515.37 L233.99,515.24 L234.77,515.14 L235.54,515.10 L236.32,515.11 L237.10,515.17 L237.88,515.28 L238.66,515.42 L239.43,515.62 L240.21,515.89 L240.99,516.26 L241.77,516.76 L242.55,517.39 L243.33,518.17 L244.10,519.12 L244.88,520.24 L245.66,521.55 L246.44,523.05 L247.22,524.75 L248.00,526.61 L248.77,528.64 L249.55,530.86 L250.33,533.29 L251.11,535.88 L251.89,538.67 L252.67,541.75 L253.44,545.19 L254.22,548.90 L255.00,553.00 L255.00,560.60 Z" fill="#C24C86" /><path d="M22.30,555.20 L23.08,555.16 L23.86,555.66 L24.63,556.66 L25.41,557.56 L26.19,558.35 L26.97,559.00 L27.75,559.48 L28.53,559.83 L29.30,560.07 L30.08,560.26 L30.86,560.39 L31.64,560.50 L32.42,560.57 L33.20,560.60 L33.97,560.60 L34.75,560.60 L35.53,560.60 L36.31,560.60 L37.09,560.60 L37.87,560.60 L38.64,560.60 L39.42,560.60 L40.20,560.60 L40.98,560.60 L41.76,560.60 L42.53,560.60 L43.31,560.60 L44.09,560.60 L44.87,560.60 L45.65,560.60 L46.43,560.60 L47.20,560.60 L47.98,560.60 L48.76,560.60 L49.54,560.60 L50.32,560.60 L51.10,560.60 L51.87,560.60 L52.65,560.60 L53.43,560.60 L54.21,560.60 L54.99,560.60 L55.77,560.60 L56.54,560.60 L57.32,560.60 L58.10,560.60 L58.88,560.60 L59.66,560.60 L60.43,560.60 L61.21,560.60 L61.99,560.60 L62.77,560.60 L63.55,560.60 L64.33,560.60 L65.10,560.60 L65.88,560.60 L66.66,560.60 L67.44,560.60 L68.22,560.60 L69.00,560.60 L69.77,560.60 L70.55,560.56 L71.33,560.50 L72.11,560.44 L72.89,560.37 L73.67,560.29 L74.44,560.21 L75.22,560.12 L76.00,560.02 L76.78,559.92 L77.56,559.82 L78.33,559.72 L79.11,559.62 L79.89,559.51 L80.67,559.41 L81.45,559.30 L82.23,559.18 L83.00,559.07 L83.78,558.95 L84.56,558.82 L85.34,558.70 L86.12,558.57 L86.90,558.44 L87.67,558.31 L88.45,558.17 L89.23,558.03 L90.01,557.89 L90.79,557.75 L91.57,557.61 L92.34,557.46 L93.12,557.31 L93.90,557.16 L94.68,557.01 L95.46,556.85 L96.23,556.69 L97.01,556.53 L97.79,556.37 L98.57,556.20 L99.35,556.04 L100.13,555.87 L100.90,555.70 L101.68,555.53 L102.46,555.36 L103.24,555.19 L104.02,555.01 L104.80,554.83 L105.57,554.65 L106.35,554.47 L107.13,554.29 L107.91,554.10 L108.69,553.92 L109.47,553.73 L110.24,553.54 L111.02,553.34 L111.80,553.15 L112.58,552.95 L113.36,552.75 L114.13,552.55 L114.91,552.35 L115.69,552.14 L116.47,551.94 L117.25,551.73 L118.03,551.52 L118.80,551.32 L119.58,551.11 L120.36,550.90 L121.14,550.70 L121.92,550.49 L122.70,550.28 L123.47,550.08 L124.25,549.87 L125.03,549.66 L125.81,549.45 L126.59,549.24 L127.37,549.03 L128.14,548.81 L128.92,548.60 L129.70,548.38 L130.48,548.16 L131.26,547.94 L132.03,547.72 L132.81,547.50 L133.59,547.28 L134.37,547.05 L135.15,546.82 L135.93,546.60 L136.70,546.37 L137.48,546.14 L138.26,545.91 L139.04,545.68 L139.82,545.45 L140.60,545.22 L141.37,544.99 L142.15,544.76 L142.93,544.53 L143.71,544.30 L144.49,544.07 L145.27,543.84 L146.04,543.60 L146.82,543.37 L147.60,543.13 L148.38,542.90 L149.16,542.66 L149.93,542.42 L150.71,542.18 L151.49,541.93 L152.27,541.69 L153.05,541.44 L153.83,541.20 L154.60,540.95 L155.38,540.64 L156.16,540.27 L156.94,539.89 L157.72,539.52 L158.50,539.14 L159.27,538.77 L160.05,538.39 L160.83,538.01 L161.61,537.63 L162.39,537.25 L163.17,536.86 L163.94,536.48 L164.72,536.09 L165.50,535.70 L166.28,535.32 L167.06,534.93 L167.83,534.54 L168.61,534.15 L169.39,533.76 L170.17,533.37 L170.95,532.97 L171.73,532.58 L172.50,532.19 L173.28,531.79 L174.06,531.40 L174.84,531.00 L175.62,530.61 L176.40,530.21 L177.17,529.82 L177.95,529.42 L178.73,529.13 L179.51,528.86 L180.29,528.58 L181.07,528.30 L181.84,528.02 L182.62,527.75 L183.40,527.47 L184.18,527.20 L184.96,526.93 L185.73,526.65 L186.51,526.38 L187.29,526.11 L188.07,525.84 L188.85,525.57 L189.63,525.30 L190.40,525.03 L191.18,524.76 L191.96,524.49 L192.74,524.22 L193.52,523.96 L194.30,523.69 L195.07,523.42 L195.85,523.16 L196.63,522.89 L197.41,522.63 L198.19,522.37 L198.97,522.11 L199.74,521.84 L200.52,521.58 L201.30,521.33 L202.08,521.07 L202.86,520.81 L203.63,520.56 L204.41,520.30 L205.19,520.05 L205.97,519.79 L206.75,519.54 L207.53,519.28 L208.30,519.02 L209.08,518.75 L209.86,518.49 L210.64,518.22 L211.42,517.95 L212.20,517.67 L212.97,517.40 L213.75,517.12 L214.53,517.06 L215.31,517.12 L216.09,517.17 L216.87,517.21 L217.64,517.26 L218.42,517.31 L219.20,517.35 L219.98,517.39 L220.76,517.42 L221.53,517.45 L222.31,517.47 L223.09,517.49 L223.87,517.50 L224.65,517.52 L225.43,517.54 L226.20,517.48 L226.98,517.20 L227.76,516.92 L228.54,516.66 L229.32,516.42 L230.10,516.18 L230.87,515.96 L231.65,515.74 L232.43,515.55 L233.21,515.37 L233.99,515.24 L234.77,515.14 L235.54,515.10 L236.32,515.11 L237.10,515.17 L237.88,515.28 L238.66,515.42 L239.43,515.62 L240.21,515.89 L240.99,516.26 L241.77,516.76 L242.55,517.39 L243.33,518.17 L244.10,519.12 L244.88,520.24 L245.66,521.55 L246.44,523.05 L247.22,524.75 L248.00,526.61 L248.77,528.64 L249.55,530.86 L250.33,533.29 L251.11,535.88 L251.89,538.67 L252.67,541.75 L253.44,545.19 L254.22,548.90 L255.00,553.00" fill="none" stroke="#4a1a35" stroke-width="0.55" stroke-linejoin="round"/>
<path d="M22.30,560.60 L22.30,554.20 L23.08,554.16 L23.86,554.66 L24.63,555.66 L25.41,556.56 L26.19,557.35 L26.97,558.00 L27.75,558.48 L28.53,558.83 L29.30,559.07 L30.08,559.26 L30.86,559.39 L31.64,559.50 L32.42,559.57 L33.20,559.62 L33.97,559.67 L34.75,559.70 L35.53,559.73 L36.31,559.76 L37.09,559.78 L37.87,559.80 L38.64,559.82 L39.42,559.84 L40.20,559.85 L40.98,559.87 L41.76,559.88 L42.53,559.88 L43.31,559.89 L44.09,559.90 L44.87,559.90 L45.65,559.90 L46.43,559.90 L47.20,559.90 L47.98,559.90 L48.76,559.90 L49.54,559.90 L50.32,559.90 L51.10,559.90 L51.87,559.90 L52.65,559.90 L53.43,559.90 L54.21,559.90 L54.99,559.90 L55.77,559.90 L56.54,559.90 L57.32,559.90 L58.10,559.90 L58.88,559.90 L59.66,559.90 L60.43,559.89 L61.21,559.89 L61.99,559.88 L62.77,559.86 L63.55,559.85 L64.33,559.82 L65.10,559.80 L65.88,559.77 L66.66,559.74 L67.44,559.71 L68.22,559.68 L69.00,559.64 L69.77,559.60 L70.55,559.56 L71.33,559.50 L72.11,559.44 L72.89,559.37 L73.67,559.29 L74.44,559.21 L75.22,559.12 L76.00,559.02 L76.78,558.92 L77.56,558.82 L78.33,558.72 L79.11,558.62 L79.89,558.51 L80.67,558.41 L81.45,558.30 L82.23,558.18 L83.00,558.07 L83.78,557.95 L84.56,557.82 L85.34,557.70 L86.12,557.57 L86.90,557.44 L87.67,557.31 L88.45,557.17 L89.23,557.03 L90.01,556.89 L90.79,556.75 L91.57,556.61 L92.34,556.46 L93.12,556.31 L93.90,556.16 L94.68,556.01 L95.46,555.85 L96.23,555.69 L97.01,555.53 L97.79,555.37 L98.57,555.20 L99.35,555.04 L100.13,554.87 L100.90,554.70 L101.68,554.53 L102.46,554.36 L103.24,554.19 L104.02,554.01 L104.80,553.83 L105.57,553.65 L106.35,553.47 L107.13,553.29 L107.91,553.10 L108.69,552.92 L109.47,552.73 L110.24,552.54 L111.02,552.34 L111.80,552.15 L112.58,551.95 L113.36,551.75 L114.13,551.55 L114.91,551.35 L115.69,551.14 L116.47,550.94 L117.25,550.73 L118.03,550.52 L118.80,550.32 L119.58,550.11 L120.36,549.90 L121.14,549.70 L121.92,549.49 L122.70,549.28 L123.47,549.08 L124.25,548.87 L125.03,548.66 L125.81,548.45 L126.59,548.24 L127.37,548.03 L128.14,547.81 L128.92,547.60 L129.70,547.38 L130.48,547.16 L131.26,546.94 L132.03,546.72 L132.81,546.50 L133.59,546.28 L134.37,546.05 L135.15,545.82 L135.93,545.60 L136.70,545.37 L137.48,545.14 L138.26,544.91 L139.04,544.68 L139.82,544.45 L140.60,544.22 L141.37,543.99 L142.15,543.76 L142.93,543.53 L143.71,543.30 L144.49,543.07 L145.27,542.84 L146.04,542.60 L146.82,542.37 L147.60,542.13 L148.38,541.90 L149.16,541.66 L149.93,541.42 L150.71,541.18 L151.49,540.93 L152.27,540.69 L153.05,540.44 L153.83,540.20 L154.60,539.95 L155.38,539.70 L156.16,539.45 L156.94,539.20 L157.72,538.95 L158.50,538.69 L159.27,538.44 L160.05,538.18 L160.83,537.92 L161.61,537.66 L162.39,537.40 L163.17,537.14 L163.94,536.88 L164.72,536.61 L165.50,536.35 L166.28,536.08 L167.06,535.81 L167.83,535.55 L168.61,535.28 L169.39,535.01 L170.17,534.74 L170.95,534.47 L171.73,534.20 L172.50,533.93 L173.28,533.65 L174.06,533.38 L174.84,533.11 L175.62,532.83 L176.40,532.56 L177.17,532.29 L177.95,532.01 L178.73,531.74 L179.51,531.47 L180.29,531.20 L181.07,530.93 L181.84,530.67 L182.62,530.40 L183.40,530.13 L184.18,529.87 L184.96,529.60 L185.73,529.34 L186.51,529.08 L187.29,528.81 L188.07,528.55 L188.85,528.29 L189.63,528.03 L190.40,527.77 L191.18,527.51 L191.96,527.25 L192.74,526.99 L193.52,526.73 L194.30,526.47 L195.07,526.21 L195.85,525.96 L196.63,525.70 L197.41,525.45 L198.19,525.19 L198.97,524.94 L199.74,524.69 L200.52,524.43 L201.30,524.18 L202.08,523.94 L202.86,523.69 L203.63,523.44 L204.41,523.20 L205.19,522.95 L205.97,522.70 L206.75,522.46 L207.53,522.21 L208.30,521.95 L209.08,521.70 L209.86,521.44 L210.64,521.18 L211.42,520.92 L212.20,520.65 L212.97,520.38 L213.75,520.11 L214.53,519.84 L215.31,519.57 L216.09,519.30 L216.87,519.02 L217.64,518.74 L218.42,518.46 L219.20,518.18 L219.98,517.90 L220.76,517.61 L221.53,517.31 L222.31,517.01 L223.09,516.70 L223.87,516.39 L224.65,516.08 L225.43,515.78 L226.20,515.48 L226.98,515.20 L227.76,514.92 L228.54,514.66 L229.32,514.42 L230.10,514.18 L230.87,513.96 L231.65,513.74 L232.43,513.55 L233.21,513.37 L233.99,513.24 L234.77,513.14 L235.54,513.10 L236.32,513.11 L237.10,513.17 L237.88,513.28 L238.66,513.42 L239.43,513.62 L240.21,513.89 L240.99,514.26 L241.77,514.76 L242.55,515.39 L243.33,516.17 L244.10,517.12 L244.88,518.24 L245.66,519.55 L246.44,521.05 L247.22,522.75 L248.00,524.61 L248.77,526.64 L249.55,528.86 L250.33,531.29 L251.11,533.88 L251.89,536.67 L252.67,539.75 L253.44,543.19 L254.22,546.90 L255.00,551.00 L255.00,560.60 Z" fill="#8a6cc0" /><path d="M22.30,554.20 L23.08,554.16 L23.86,554.66 L24.63,555.66 L25.41,556.56 L26.19,557.35 L26.97,558.00 L27.75,558.48 L28.53,558.83 L29.30,559.07 L30.08,559.26 L30.86,559.39 L31.64,559.50 L32.42,559.57 L33.20,559.62 L33.97,559.67 L34.75,559.70 L35.53,559.73 L36.31,559.76 L37.09,559.78 L37.87,559.80 L38.64,559.82 L39.42,559.84 L40.20,559.85 L40.98,559.87 L41.76,559.88 L42.53,559.88 L43.31,559.89 L44.09,559.90 L44.87,559.90 L45.65,559.90 L46.43,559.90 L47.20,559.90 L47.98,559.90 L48.76,559.90 L49.54,559.90 L50.32,559.90 L51.10,559.90 L51.87,559.90 L52.65,559.90 L53.43,559.90 L54.21,559.90 L54.99,559.90 L55.77,559.90 L56.54,559.90 L57.32,559.90 L58.10,559.90 L58.88,559.90 L59.66,559.90 L60.43,559.89 L61.21,559.89 L61.99,559.88 L62.77,559.86 L63.55,559.85 L64.33,559.82 L65.10,559.80 L65.88,559.77 L66.66,559.74 L67.44,559.71 L68.22,559.68 L69.00,559.64 L69.77,559.60 L70.55,559.56 L71.33,559.50 L72.11,559.44 L72.89,559.37 L73.67,559.29 L74.44,559.21 L75.22,559.12 L76.00,559.02 L76.78,558.92 L77.56,558.82 L78.33,558.72 L79.11,558.62 L79.89,558.51 L80.67,558.41 L81.45,558.30 L82.23,558.18 L83.00,558.07 L83.78,557.95 L84.56,557.82 L85.34,557.70 L86.12,557.57 L86.90,557.44 L87.67,557.31 L88.45,557.17 L89.23,557.03 L90.01,556.89 L90.79,556.75 L91.57,556.61 L92.34,556.46 L93.12,556.31 L93.90,556.16 L94.68,556.01 L95.46,555.85 L96.23,555.69 L97.01,555.53 L97.79,555.37 L98.57,555.20 L99.35,555.04 L100.13,554.87 L100.90,554.70 L101.68,554.53 L102.46,554.36 L103.24,554.19 L104.02,554.01 L104.80,553.83 L105.57,553.65 L106.35,553.47 L107.13,553.29 L107.91,553.10 L108.69,552.92 L109.47,552.73 L110.24,552.54 L111.02,552.34 L111.80,552.15 L112.58,551.95 L113.36,551.75 L114.13,551.55 L114.91,551.35 L115.69,551.14 L116.47,550.94 L117.25,550.73 L118.03,550.52 L118.80,550.32 L119.58,550.11 L120.36,549.90 L121.14,549.70 L121.92,549.49 L122.70,549.28 L123.47,549.08 L124.25,548.87 L125.03,548.66 L125.81,548.45 L126.59,548.24 L127.37,548.03 L128.14,547.81 L128.92,547.60 L129.70,547.38 L130.48,547.16 L131.26,546.94 L132.03,546.72 L132.81,546.50 L133.59,546.28 L134.37,546.05 L135.15,545.82 L135.93,545.60 L136.70,545.37 L137.48,545.14 L138.26,544.91 L139.04,544.68 L139.82,544.45 L140.60,544.22 L141.37,543.99 L142.15,543.76 L142.93,543.53 L143.71,543.30 L144.49,543.07 L145.27,542.84 L146.04,542.60 L146.82,542.37 L147.60,542.13 L148.38,541.90 L149.16,541.66 L149.93,541.42 L150.71,541.18 L151.49,540.93 L152.27,540.69 L153.05,540.44 L153.83,540.20 L154.60,539.95 L155.38,539.70 L156.16,539.45 L156.94,539.20 L157.72,538.95 L158.50,538.69 L159.27,538.44 L160.05,538.18 L160.83,537.92 L161.61,537.66 L162.39,537.40 L163.17,537.14 L163.94,536.88 L164.72,536.61 L165.50,536.35 L166.28,536.08 L167.06,535.81 L167.83,535.55 L168.61,535.28 L169.39,535.01 L170.17,534.74 L170.95,534.47 L171.73,534.20 L172.50,533.93 L173.28,533.65 L174.06,533.38 L174.84,533.11 L175.62,532.83 L176.40,532.56 L177.17,532.29 L177.95,532.01 L178.73,531.74 L179.51,531.47 L180.29,531.20 L181.07,530.93 L181.84,530.67 L182.62,530.40 L183.40,530.13 L184.18,529.87 L184.96,529.60 L185.73,529.34 L186.51,529.08 L187.29,528.81 L188.07,528.55 L188.85,528.29 L189.63,528.03 L190.40,527.77 L191.18,527.51 L191.96,527.25 L192.74,526.99 L193.52,526.73 L194.30,526.47 L195.07,526.21 L195.85,525.96 L196.63,525.70 L197.41,525.45 L198.19,525.19 L198.97,524.94 L199.74,524.69 L200.52,524.43 L201.30,524.18 L202.08,523.94 L202.86,523.69 L203.63,523.44 L204.41,523.20 L205.19,522.95 L205.97,522.70 L206.75,522.46 L207.53,522.21 L208.30,521.95 L209.08,521.70 L209.86,521.44 L210.64,521.18 L211.42,520.92 L212.20,520.65 L212.97,520.38 L213.75,520.11 L214.53,519.84 L215.31,519.57 L216.09,519.30 L216.87,519.02 L217.64,518.74 L218.42,518.46 L219.20,518.18 L219.98,517.90 L220.76,517.61 L221.53,517.31 L222.31,517.01 L223.09,516.70 L223.87,516.39 L224.65,516.08 L225.43,515.78 L226.20,515.48 L226.98,515.20 L227.76,514.92 L228.54,514.66 L229.32,514.42 L230.10,514.18 L230.87,513.96 L231.65,513.74 L232.43,513.55 L233.21,513.37 L233.99,513.24 L234.77,513.14 L235.54,513.10 L236.32,513.11 L237.10,513.17 L237.88,513.28 L238.66,513.42 L239.43,513.62 L240.21,513.89 L240.99,514.26 L241.77,514.76 L242.55,515.39 L243.33,516.17 L244.10,517.12 L244.88,518.24 L245.66,519.55 L246.44,521.05 L247.22,522.75 L248.00,524.61 L248.77,526.64 L249.55,528.86 L250.33,531.29 L251.11,533.88 L251.89,536.67 L252.67,539.75 L253.44,543.19 L254.22,546.90 L255.00,551.00" fill="none" stroke="#241a48" stroke-width="0.45" stroke-linejoin="round"/>
<path d="M22.30,560.60 L22.30,554.20 L23.08,554.16 L23.86,554.66 L24.63,555.66 L25.41,556.56 L26.19,557.35 L26.97,558.00 L27.75,558.48 L28.53,558.83 L29.30,559.07 L30.08,559.26 L30.86,559.39 L31.64,559.50 L32.42,559.57 L33.20,559.62 L33.97,559.67 L34.75,559.70 L35.53,559.73 L36.31,559.76 L37.09,559.78 L37.87,559.80 L38.64,559.82 L39.42,559.84 L40.20,559.85 L40.98,559.87 L41.76,559.88 L42.53,559.88 L43.31,559.89 L44.09,559.90 L44.87,559.90 L45.65,559.90 L46.43,559.90 L47.20,559.90 L47.98,559.90 L48.76,559.90 L49.54,559.90 L50.32,559.90 L51.10,559.90 L51.87,559.90 L52.65,559.90 L53.43,559.90 L54.21,559.90 L54.99,559.90 L55.77,559.90 L56.54,559.90 L57.32,559.90 L58.10,559.90 L58.88,559.90 L59.66,559.90 L60.43,559.91 L61.21,559.94 L61.99,559.97 L62.77,559.99 L63.55,560.00 L64.33,560.02 L65.10,560.03 L65.88,560.04 L66.66,560.04 L67.44,560.05 L68.22,560.05 L69.00,560.05 L69.77,560.04 L70.55,560.03 L71.33,560.01 L72.11,559.99 L72.89,559.95 L73.67,559.91 L74.44,559.86 L75.22,559.80 L76.00,559.74 L76.78,559.68 L77.56,559.61 L78.33,559.55 L79.11,559.48 L79.89,559.41 L80.67,559.34 L81.45,559.26 L82.23,559.18 L83.00,559.10 L83.78,559.02 L84.56,558.93 L85.34,558.84 L86.12,558.75 L86.90,558.65 L87.67,558.55 L88.45,558.45 L89.23,558.35 L90.01,558.24 L90.79,558.14 L91.57,558.03 L92.34,557.92 L93.12,557.80 L93.90,557.69 L94.68,557.57 L95.46,557.44 L96.23,557.32 L97.01,557.19 L97.79,557.07 L98.57,556.94 L99.35,556.81 L100.13,556.67 L100.90,556.50 L101.68,556.33 L102.46,556.16 L103.24,555.99 L104.02,555.81 L104.80,555.63 L105.57,555.45 L106.35,555.27 L107.13,555.09 L107.91,554.90 L108.69,554.72 L109.47,554.53 L110.24,554.34 L111.02,554.14 L111.80,553.95 L112.58,553.75 L113.36,553.55 L114.13,553.35 L114.91,553.15 L115.69,552.94 L116.47,552.74 L117.25,552.53 L118.03,552.32 L118.80,552.12 L119.58,551.91 L120.36,551.70 L121.14,551.50 L121.92,551.29 L122.70,551.08 L123.47,550.88 L124.25,550.67 L125.03,550.46 L125.81,550.25 L126.59,550.04 L127.37,549.83 L128.14,549.61 L128.92,549.40 L129.70,549.18 L130.48,548.96 L131.26,548.74 L132.03,548.52 L132.81,548.30 L133.59,548.08 L134.37,547.85 L135.15,547.62 L135.93,547.40 L136.70,547.17 L137.48,546.94 L138.26,546.71 L139.04,546.48 L139.82,546.25 L140.60,546.02 L141.37,545.79 L142.15,545.56 L142.93,545.33 L143.71,545.10 L144.49,544.87 L145.27,544.64 L146.04,544.40 L146.82,544.17 L147.60,543.93 L148.38,543.70 L149.16,543.46 L149.93,543.22 L150.71,542.98 L151.49,542.73 L152.27,542.49 L153.05,542.24 L153.83,542.00 L154.60,541.75 L155.38,541.50 L156.16,541.25 L156.94,541.00 L157.72,540.75 L158.50,540.49 L159.27,540.24 L160.05,539.98 L160.83,539.72 L161.61,539.46 L162.39,539.20 L163.17,538.94 L163.94,538.68 L164.72,538.41 L165.50,538.15 L166.28,537.88 L167.06,537.61 L167.83,537.35 L168.61,537.08 L169.39,536.81 L170.17,536.54 L170.95,536.27 L171.73,536.00 L172.50,535.73 L173.28,535.45 L174.06,535.18 L174.84,534.91 L175.62,534.63 L176.40,534.36 L177.17,534.09 L177.95,533.81 L178.73,533.54 L179.51,533.27 L180.29,533.00 L181.07,532.73 L181.84,532.47 L182.62,532.20 L183.40,531.93 L184.18,531.67 L184.96,531.40 L185.73,531.14 L186.51,530.88 L187.29,530.61 L188.07,530.35 L188.85,530.09 L189.63,529.83 L190.40,529.57 L191.18,529.31 L191.96,529.05 L192.74,528.79 L193.52,528.53 L194.30,528.27 L195.07,528.01 L195.85,527.76 L196.63,527.50 L197.41,527.25 L198.19,526.99 L198.97,526.74 L199.74,526.49 L200.52,526.23 L201.30,525.98 L202.08,525.74 L202.86,525.49 L203.63,525.24 L204.41,525.00 L205.19,524.75 L205.97,524.50 L206.75,524.26 L207.53,524.01 L208.30,523.75 L209.08,523.50 L209.86,523.24 L210.64,522.98 L211.42,522.72 L212.20,522.43 L212.97,522.08 L213.75,521.73 L214.53,521.37 L215.31,521.01 L216.09,520.66 L216.87,520.30 L217.64,519.93 L218.42,519.57 L219.20,519.21 L219.98,518.84 L220.76,518.46 L221.53,518.08 L222.31,517.70 L223.09,517.31 L223.87,516.91 L224.65,516.52 L225.43,516.18 L226.20,515.88 L226.98,515.60 L227.76,515.32 L228.54,515.06 L229.32,514.82 L230.10,514.58 L230.87,514.36 L231.65,514.14 L232.43,513.95 L233.21,513.77 L233.99,513.64 L234.77,513.54 L235.54,513.50 L236.32,513.51 L237.10,513.57 L237.88,513.68 L238.66,513.82 L239.43,514.02 L240.21,514.29 L240.99,514.66 L241.77,515.16 L242.55,515.79 L243.33,516.57 L244.10,517.52 L244.88,518.64 L245.66,519.95 L246.44,521.45 L247.22,523.15 L248.00,525.01 L248.77,527.04 L249.55,529.26 L250.33,531.69 L251.11,534.28 L251.89,537.07 L252.67,540.15 L253.44,543.59 L254.22,547.30 L255.00,551.40 L255.00,560.60 Z" fill="#6446A6" />
<path d="M22.30,554.20 L23.08,554.16 L23.86,554.66 L24.63,555.66 L25.41,556.56 L26.19,557.35 L26.97,558.00 L27.75,558.48 L28.53,558.83 L29.30,559.07 L30.08,559.26 L30.86,559.39 L31.64,559.50 L32.42,559.57 L33.20,559.62 L33.97,559.67 L34.75,559.70 L35.53,559.73 L36.31,559.76 L37.09,559.78 L37.87,559.80 L38.64,559.82 L39.42,559.84 L40.20,559.85 L40.98,559.87 L41.76,559.88 L42.53,559.88 L43.31,559.89 L44.09,559.90 L44.87,559.90 L45.65,559.90 L46.43,559.90 L47.20,559.90 L47.98,559.90 L48.76,559.90 L49.54,559.90 L50.32,559.90 L51.10,559.90 L51.87,559.90 L52.65,559.90 L53.43,559.90 L54.21,559.90 L54.99,559.90 L55.77,559.90 L56.54,559.90 L57.32,559.90 L58.10,559.90 L58.88,559.90 L59.66,559.90 L60.43,559.89 L61.21,559.89 L61.99,559.88 L62.77,559.86 L63.55,559.85 L64.33,559.82 L65.10,559.80 L65.88,559.77 L66.66,559.74 L67.44,559.71 L68.22,559.68 L69.00,559.64 L69.77,559.60 L70.55,559.56 L71.33,559.50 L72.11,559.44 L72.89,559.37 L73.67,559.29 L74.44,559.21 L75.22,559.12 L76.00,559.02 L76.78,558.92 L77.56,558.82 L78.33,558.72 L79.11,558.62 L79.89,558.51 L80.67,558.41 L81.45,558.30 L82.23,558.18 L83.00,558.07 L83.78,557.95 L84.56,557.82 L85.34,557.70 L86.12,557.57 L86.90,557.44 L87.67,557.31 L88.45,557.17 L89.23,557.03 L90.01,556.89 L90.79,556.75 L91.57,556.61 L92.34,556.46 L93.12,556.31 L93.90,556.16 L94.68,556.01 L95.46,555.85 L96.23,555.69 L97.01,555.53 L97.79,555.37 L98.57,555.20 L99.35,555.04 L100.13,554.87 L100.90,554.70 L101.68,554.53 L102.46,554.36 L103.24,554.19 L104.02,554.01 L104.80,553.83 L105.57,553.65 L106.35,553.47 L107.13,553.29 L107.91,553.10 L108.69,552.92 L109.47,552.73 L110.24,552.54 L111.02,552.34 L111.80,552.15 L112.58,551.95 L113.36,551.75 L114.13,551.55 L114.91,551.35 L115.69,551.14 L116.47,550.94 L117.25,550.73 L118.03,550.52 L118.80,550.32 L119.58,550.11 L120.36,549.90 L121.14,549.70 L121.92,549.49 L122.70,549.28 L123.47,549.08 L124.25,548.87 L125.03,548.66 L125.81,548.45 L126.59,548.24 L127.37,548.03 L128.14,547.81 L128.92,547.60 L129.70,547.38 L130.48,547.16 L131.26,546.94 L132.03,546.72 L132.81,546.50 L133.59,546.28 L134.37,546.05 L135.15,545.82 L135.93,545.60 L136.70,545.37 L137.48,545.14 L138.26,544.91 L139.04,544.68 L139.82,544.45 L140.60,544.22 L141.37,543.99 L142.15,543.76 L142.93,543.53 L143.71,543.30 L144.49,543.07 L145.27,542.84 L146.04,542.60 L146.82,542.37 L147.60,542.13 L148.38,541.90 L149.16,541.66 L149.93,541.42 L150.71,541.18 L151.49,540.93 L152.27,540.69 L153.05,540.44 L153.83,540.20 L154.60,539.95 L155.38,539.70 L156.16,539.45 L156.94,539.20 L157.72,538.95 L158.50,538.69 L159.27,538.44 L160.05,538.18 L160.83,537.92 L161.61,537.66" fill="none" stroke="#241a48" stroke-width="0.7" stroke-linejoin="round"/>
<path d="M214.53,519.84 L215.31,519.57 L216.09,519.30 L216.87,519.02 L217.64,518.74 L218.42,518.46 L219.20,518.18 L219.98,517.90 L220.76,517.61 L221.53,517.31 L222.31,517.01 L223.09,516.70 L223.87,516.39 L224.65,516.08 L225.43,515.78 L226.20,515.48 L226.98,515.20 L227.76,514.92 L228.54,514.66 L229.32,514.42 L230.10,514.18 L230.87,513.96 L231.65,513.74 L232.43,513.55 L233.21,513.37 L233.99,513.24 L234.77,513.14 L235.54,513.10 L236.32,513.11 L237.10,513.17 L237.88,513.28 L238.66,513.42 L239.43,513.62 L240.21,513.89 L240.99,514.26 L241.77,514.76 L242.55,515.39 L243.33,516.17 L244.10,517.12 L244.88,518.24 L245.66,519.55 L246.44,521.05 L247.22,522.75 L248.00,524.61 L248.77,526.64 L249.55,528.86 L250.33,531.29 L251.11,533.88 L251.89,536.67 L252.67,539.75 L253.44,543.19 L254.22,546.90 L255.00,551.00" fill="none" stroke="#241a48" stroke-width="0.7" stroke-linejoin="round"/>
<path d="M160.05,538.39 L160.83,538.01 L161.61,537.63 L162.39,537.25 L163.17,536.86 L163.94,536.48 L164.72,536.09 L165.50,535.70 L166.28,535.32 L167.06,534.93 L167.83,534.54 L168.61,534.15 L169.39,533.76 L170.17,533.37 L170.95,532.97 L171.73,532.58 L172.50,532.19 L173.28,531.79 L174.06,531.40 L174.84,531.00 L175.62,530.61 L176.40,530.21 L177.17,529.82 L177.95,529.42 L178.73,529.13 L179.51,528.86 L180.29,528.58 L181.07,528.30 L181.84,528.02 L182.62,527.75 L183.40,527.47 L184.18,527.20 L184.96,526.93 L185.73,526.65 L186.51,526.38 L187.29,526.11 L188.07,525.84 L188.85,525.57 L189.63,525.30 L190.40,525.03 L191.18,524.76 L191.96,524.49 L192.74,524.22 L193.52,523.96 L194.30,523.69 L195.07,523.42 L195.85,523.16 L196.63,522.89 L197.41,522.63 L198.19,522.37 L198.97,522.11 L199.74,521.84 L200.52,521.58 L201.30,521.33 L202.08,521.07 L202.86,520.81 L203.63,520.56 L204.41,520.30 L205.19,520.05 L205.97,519.79 L206.75,519.54 L207.53,519.28 L208.30,519.02 L209.08,518.75 L209.86,518.49 L210.64,518.22 L211.42,517.95 L212.20,517.67 L212.97,517.40 L213.75,517.12 L214.53,517.06 L215.31,517.12" fill="none" stroke="#2a1430" stroke-width="0.6" stroke-linejoin="round"/>
<path d="M282.00,560.30 L282.00,555.00 L282.97,554.85 L283.94,554.69 L284.92,554.49 L285.89,554.27 L286.86,554.03 L287.83,553.76 L288.81,553.47 L289.78,553.16 L290.75,552.84 L291.72,552.49 L292.70,552.13 L293.67,551.75 L294.64,551.37 L295.61,550.96 L296.59,550.53 L297.56,550.06 L298.53,549.54 L299.50,548.97 L300.48,548.36 L301.45,547.70 L302.42,547.01 L303.39,546.29 L304.36,545.55 L305.34,544.80 L306.31,544.03 L307.28,543.26 L308.25,542.50 L309.23,541.75 L310.20,541.01 L311.17,540.30 L312.14,539.61 L313.12,538.93 L314.09,538.27 L315.06,537.61 L316.03,536.96 L317.01,536.30 L317.98,535.65 L318.95,535.00 L319.92,534.35 L320.90,533.71 L321.87,533.08 L322.84,532.46 L323.81,531.85 L324.78,531.25 L325.76,530.66 L326.73,530.09 L327.70,529.53 L328.67,528.99 L329.65,528.47 L330.62,527.95 L331.59,527.45 L332.56,526.95 L333.54,526.47 L334.51,525.99 L335.48,525.52 L336.45,525.06 L337.43,524.61 L338.40,524.16 L339.37,523.73 L340.34,523.30 L341.32,522.88 L342.29,522.47 L343.26,522.07 L344.23,521.67 L345.21,521.28 L346.18,520.90 L347.15,520.52 L348.12,520.14 L349.09,519.76 L350.07,519.39 L351.04,519.02 L352.01,518.66 L352.98,518.31 L353.96,517.97 L354.93,517.63 L355.90,517.31 L356.87,517.00 L357.85,516.71 L358.82,516.44 L359.79,516.18 L360.76,515.93 L361.74,515.71 L362.71,515.49 L363.68,515.28 L364.65,515.08 L365.63,514.89 L366.60,514.69 L367.57,514.51 L368.54,514.33 L369.51,514.16 L370.49,514.00 L371.46,513.85 L372.43,513.71 L373.40,513.58 L374.38,513.45 L375.35,513.35 L376.32,513.25 L377.29,513.16 L378.27,513.09 L379.24,513.02 L380.21,512.96 L381.18,512.89 L382.16,512.83 L383.13,512.78 L384.10,512.72 L385.07,512.67 L386.05,512.62 L387.02,512.58 L387.99,512.54 L388.96,512.50 L389.93,512.47 L390.91,512.45 L391.88,512.43 L392.85,512.42 L393.82,512.41 L394.80,512.42 L395.77,512.45 L396.74,512.50 L397.71,512.57 L398.69,512.66 L399.66,512.76 L400.63,512.89 L401.60,513.02 L402.58,513.18 L403.55,513.34 L404.52,513.51 L405.49,513.69 L406.47,513.87 L407.44,514.06 L408.41,514.25 L409.38,514.45 L410.35,514.64 L411.33,514.85 L412.30,515.08 L413.27,515.33 L414.24,515.60 L415.22,515.89 L416.19,516.19 L417.16,516.51 L418.13,516.84 L419.11,517.17 L420.08,517.50 L421.05,517.83 L422.02,518.16 L423.00,518.47 L423.97,518.77 L424.94,519.05 L425.91,519.31 L426.89,519.55 L427.86,519.77 L428.83,519.97 L429.80,520.16 L430.77,520.34 L431.75,520.51 L432.72,520.67 L433.69,520.84 L434.66,521.00 L435.64,521.17 L436.61,521.33 L437.58,521.51 L438.55,521.70 L439.53,521.89 L440.50,522.11 L441.47,522.33 L442.44,522.57 L443.42,522.82 L444.39,523.08 L445.36,523.35 L446.33,523.62 L447.31,523.90 L448.28,524.18 L449.25,524.46 L450.22,524.74 L451.19,525.01 L452.17,525.27 L453.14,525.53 L454.11,525.77 L455.08,526.01 L456.06,526.24 L457.03,526.46 L458.00,526.68 L458.97,526.90 L459.95,527.11 L460.92,527.32 L461.89,527.53 L462.86,527.74 L463.84,527.94 L464.81,528.14 L465.78,528.34 L466.75,528.54 L467.73,528.73 L468.70,528.93 L469.67,529.12 L470.64,529.30 L471.62,529.49 L472.59,529.67 L473.56,529.85 L474.53,530.03 L475.50,530.21 L476.48,530.38 L477.45,530.56 L478.42,530.73 L479.39,530.89 L480.37,531.06 L481.34,531.21 L482.31,531.37 L483.28,531.51 L484.26,531.65 L485.23,531.79 L486.20,531.92 L487.17,532.06 L488.15,532.19 L489.12,532.32 L490.09,532.44 L491.06,532.58 L492.04,532.71 L493.01,532.85 L493.98,532.99 L494.95,533.13 L495.92,533.29 L496.90,533.45 L497.87,533.61 L498.84,533.79 L499.81,533.98 L500.79,534.18 L501.76,534.39 L502.73,534.61 L503.70,534.84 L504.68,535.09 L505.65,535.34 L506.62,535.61 L507.59,535.88 L508.57,536.17 L509.54,536.46 L510.51,536.75 L511.48,537.05 L512.46,537.36 L513.43,537.67 L514.40,538.00 L514.40,560.30 Z" fill="#EEC43E" /><path d="M282.00,555.00 L282.97,554.85 L283.94,554.69 L284.92,554.49 L285.89,554.27 L286.86,554.03 L287.83,553.76 L288.81,553.47 L289.78,553.16 L290.75,552.84 L291.72,552.49 L292.70,552.13 L293.67,551.75 L294.64,551.37 L295.61,550.96 L296.59,550.53 L297.56,550.06 L298.53,549.54 L299.50,548.97 L300.48,548.36 L301.45,547.70 L302.42,547.01 L303.39,546.29 L304.36,545.55 L305.34,544.80 L306.31,544.03 L307.28,543.26 L308.25,542.50 L309.23,541.75 L310.20,541.01 L311.17,540.30 L312.14,539.61 L313.12,538.93 L314.09,538.27 L315.06,537.61 L316.03,536.96 L317.01,536.30 L317.98,535.65 L318.95,535.00 L319.92,534.35 L320.90,533.71 L321.87,533.08 L322.84,532.46 L323.81,531.85 L324.78,531.25 L325.76,530.66 L326.73,530.09 L327.70,529.53 L328.67,528.99 L329.65,528.47 L330.62,527.95 L331.59,527.45 L332.56,526.95 L333.54,526.47 L334.51,525.99 L335.48,525.52 L336.45,525.06 L337.43,524.61 L338.40,524.16 L339.37,523.73 L340.34,523.30 L341.32,522.88 L342.29,522.47 L343.26,522.07 L344.23,521.67 L345.21,521.28 L346.18,520.90 L347.15,520.52 L348.12,520.14 L349.09,519.76 L350.07,519.39 L351.04,519.02 L352.01,518.66 L352.98,518.31 L353.96,517.97 L354.93,517.63 L355.90,517.31 L356.87,517.00 L357.85,516.71 L358.82,516.44 L359.79,516.18 L360.76,515.93 L361.74,515.71 L362.71,515.49 L363.68,515.28 L364.65,515.08 L365.63,514.89 L366.60,514.69 L367.57,514.51 L368.54,514.33 L369.51,514.16 L370.49,514.00 L371.46,513.85 L372.43,513.71 L373.40,513.58 L374.38,513.45 L375.35,513.35 L376.32,513.25 L377.29,513.16 L378.27,513.09 L379.24,513.02 L380.21,512.96 L381.18,512.89 L382.16,512.83 L383.13,512.78 L384.10,512.72 L385.07,512.67 L386.05,512.62 L387.02,512.58 L387.99,512.54 L388.96,512.50 L389.93,512.47 L390.91,512.45 L391.88,512.43 L392.85,512.42 L393.82,512.41 L394.80,512.42 L395.77,512.45 L396.74,512.50 L397.71,512.57 L398.69,512.66 L399.66,512.76 L400.63,512.89 L401.60,513.02 L402.58,513.18 L403.55,513.34 L404.52,513.51 L405.49,513.69 L406.47,513.87 L407.44,514.06 L408.41,514.25 L409.38,514.45 L410.35,514.64 L411.33,514.85 L412.30,515.08 L413.27,515.33 L414.24,515.60 L415.22,515.89 L416.19,516.19 L417.16,516.51 L418.13,516.84 L419.11,517.17 L420.08,517.50 L421.05,517.83 L422.02,518.16 L423.00,518.47 L423.97,518.77 L424.94,519.05 L425.91,519.31 L426.89,519.55 L427.86,519.77 L428.83,519.97 L429.80,520.16 L430.77,520.34 L431.75,520.51 L432.72,520.67 L433.69,520.84 L434.66,521.00 L435.64,521.17 L436.61,521.33 L437.58,521.51 L438.55,521.70 L439.53,521.89 L440.50,522.11 L441.47,522.33 L442.44,522.57 L443.42,522.82 L444.39,523.08 L445.36,523.35 L446.33,523.62 L447.31,523.90 L448.28,524.18 L449.25,524.46 L450.22,524.74 L451.19,525.01 L452.17,525.27 L453.14,525.53 L454.11,525.77 L455.08,526.01 L456.06,526.24 L457.03,526.46 L458.00,526.68 L458.97,526.90 L459.95,527.11 L460.92,527.32 L461.89,527.53 L462.86,527.74 L463.84,527.94 L464.81,528.14 L465.78,528.34 L466.75,528.54 L467.73,528.73 L468.70,528.93 L469.67,529.12 L470.64,529.30 L471.62,529.49 L472.59,529.67 L473.56,529.85 L474.53,530.03 L475.50,530.21 L476.48,530.38 L477.45,530.56 L478.42,530.73 L479.39,530.89 L480.37,531.06 L481.34,531.21 L482.31,531.37 L483.28,531.51 L484.26,531.65 L485.23,531.79 L486.20,531.92 L487.17,532.06 L488.15,532.19 L489.12,532.32 L490.09,532.44 L491.06,532.58 L492.04,532.71 L493.01,532.85 L493.98,532.99 L494.95,533.13 L495.92,533.29 L496.90,533.45 L497.87,533.61 L498.84,533.79 L499.81,533.98 L500.79,534.18 L501.76,534.39 L502.73,534.61 L503.70,534.84 L504.68,535.09 L505.65,535.34 L506.62,535.61 L507.59,535.88 L508.57,536.17 L509.54,536.46 L510.51,536.75 L511.48,537.05 L512.46,537.36 L513.43,537.67 L514.40,538.00" fill="none" stroke="#3a3014" stroke-width="0.55" stroke-linejoin="round"/>
<path d="M282.00,560.30 L282.00,555.40 L282.97,555.23 L283.94,555.07 L284.92,554.90 L285.89,554.72 L286.86,554.53 L287.83,554.34 L288.81,554.13 L289.78,553.91 L290.75,553.69 L291.72,553.46 L292.70,553.22 L293.67,552.98 L294.64,552.73 L295.61,552.47 L296.59,552.21 L297.56,551.93 L298.53,551.64 L299.50,551.33 L300.48,551.01 L301.45,550.68 L302.42,550.33 L303.39,549.98 L304.36,549.62 L305.34,549.25 L306.31,548.88 L307.28,548.50 L308.25,548.12 L309.23,547.74 L310.20,547.36 L311.17,546.99 L312.14,546.61 L313.12,546.23 L314.09,545.85 L315.06,545.45 L316.03,545.05 L317.01,544.64 L317.98,544.23 L318.95,543.81 L319.92,543.40 L320.90,542.98 L321.87,542.57 L322.84,542.17 L323.81,541.77 L324.78,541.39 L325.76,541.02 L326.73,540.67 L327.70,540.34 L328.67,540.02 L329.65,539.72 L330.62,539.44 L331.59,539.16 L332.56,538.90 L333.54,538.64 L334.51,538.39 L335.48,538.15 L336.45,537.91 L337.43,537.68 L338.40,537.45 L339.37,537.23 L340.34,537.01 L341.32,536.79 L342.29,536.58 L343.26,536.37 L344.23,536.15 L345.21,535.94 L346.18,535.73 L347.15,535.53 L348.12,535.32 L349.09,535.12 L350.07,534.92 L351.04,534.72 L352.01,534.52 L352.98,534.33 L353.96,534.14 L354.93,533.95 L355.90,533.76 L356.87,533.58 L357.85,533.40 L358.82,533.22 L359.79,533.04 L360.76,532.87 L361.74,532.70 L362.71,532.53 L363.68,532.36 L364.65,532.19 L365.63,532.03 L366.60,531.87 L367.57,531.71 L368.54,531.56 L369.51,531.40 L370.49,531.25 L371.46,531.09 L372.43,530.94 L373.40,530.79 L374.38,530.65 L375.35,530.50 L376.32,530.35 L377.29,530.21 L378.27,530.06 L379.24,529.92 L380.21,529.79 L381.18,529.65 L382.16,529.52 L383.13,529.39 L384.10,529.26 L385.07,529.13 L386.05,529.00 L387.02,528.87 L387.99,528.74 L388.96,528.61 L389.93,528.47 L390.91,528.33 L391.88,528.19 L392.85,528.04 L393.82,527.89 L394.80,527.72 L395.77,527.55 L396.74,527.38 L397.71,527.19 L398.69,527.00 L399.66,526.80 L400.63,526.60 L401.60,526.39 L402.58,526.19 L403.55,525.98 L404.52,525.77 L405.49,525.56 L406.47,525.36 L407.44,525.15 L408.41,524.95 L409.38,524.76 L410.35,524.56 L411.33,524.37 L412.30,524.16 L413.27,523.95 L414.24,523.73 L415.22,523.51 L416.19,523.29 L417.16,523.08 L418.13,522.88 L419.11,522.70 L420.08,522.54 L421.05,522.42 L422.02,522.32 L423.00,522.26 L423.97,522.23 L424.94,522.22 L425.91,522.22 L426.89,522.23 L427.86,522.25 L428.83,522.27 L429.80,522.30 L430.77,522.32 L431.75,522.35 L432.72,522.37 L433.69,522.40 L434.66,522.42 L435.64,522.44 L436.61,522.46 L437.58,522.48 L438.55,522.49 L439.53,522.49 L440.50,522.48 L441.47,522.46 L442.44,522.42 L443.42,522.37 L444.39,522.30 L445.36,522.22 L446.33,522.12 L447.31,522.01 L448.28,521.89 L449.25,521.76 L450.22,521.62 L451.19,521.48 L452.17,521.33 L453.14,521.17 L454.11,521.01 L455.08,520.84 L456.06,520.68 L457.03,520.51 L458.00,520.34 L458.97,520.17 L459.95,520.01 L460.92,519.84 L461.89,519.66 L462.86,519.48 L463.84,519.29 L464.81,519.09 L465.78,518.89 L466.75,518.68 L467.73,518.45 L468.70,518.23 L469.67,517.99 L470.64,517.74 L471.62,517.49 L472.59,517.23 L473.56,516.96 L474.53,516.69 L475.50,516.40 L476.48,516.11 L477.45,515.81 L478.42,515.50 L479.39,515.17 L480.37,514.81 L481.34,514.41 L482.31,513.96 L483.28,513.46 L484.26,512.91 L485.23,512.32 L486.20,511.70 L487.17,511.07 L488.15,510.42 L489.12,509.77 L490.09,509.13 L491.06,508.50 L492.04,507.90 L493.01,507.33 L493.98,506.81 L494.95,506.35 L495.92,505.94 L496.90,505.61 L497.87,505.36 L498.84,505.19 L499.81,505.13 L500.79,505.17 L501.76,505.31 L502.73,505.56 L503.70,505.91 L504.68,506.36 L505.65,506.90 L506.62,507.53 L507.59,508.24 L508.57,509.02 L509.54,509.88 L510.51,510.79 L511.48,511.75 L512.46,512.76 L513.43,513.81 L514.40,515.00 L514.40,560.30 Z" fill="#4DA244" /><path d="M282.00,555.40 L282.97,555.23 L283.94,555.07 L284.92,554.90 L285.89,554.72 L286.86,554.53 L287.83,554.34 L288.81,554.13 L289.78,553.91 L290.75,553.69 L291.72,553.46 L292.70,553.22 L293.67,552.98 L294.64,552.73 L295.61,552.47 L296.59,552.21 L297.56,551.93 L298.53,551.64 L299.50,551.33 L300.48,551.01 L301.45,550.68 L302.42,550.33 L303.39,549.98 L304.36,549.62 L305.34,549.25 L306.31,548.88 L307.28,548.50 L308.25,548.12 L309.23,547.74 L310.20,547.36 L311.17,546.99 L312.14,546.61 L313.12,546.23 L314.09,545.85 L315.06,545.45 L316.03,545.05 L317.01,544.64 L317.98,544.23 L318.95,543.81 L319.92,543.40 L320.90,542.98 L321.87,542.57 L322.84,542.17 L323.81,541.77 L324.78,541.39 L325.76,541.02 L326.73,540.67 L327.70,540.34 L328.67,540.02 L329.65,539.72 L330.62,539.44 L331.59,539.16 L332.56,538.90 L333.54,538.64 L334.51,538.39 L335.48,538.15 L336.45,537.91 L337.43,537.68 L338.40,537.45 L339.37,537.23 L340.34,537.01 L341.32,536.79 L342.29,536.58 L343.26,536.37 L344.23,536.15 L345.21,535.94 L346.18,535.73 L347.15,535.53 L348.12,535.32 L349.09,535.12 L350.07,534.92 L351.04,534.72 L352.01,534.52 L352.98,534.33 L353.96,534.14 L354.93,533.95 L355.90,533.76 L356.87,533.58 L357.85,533.40 L358.82,533.22 L359.79,533.04 L360.76,532.87 L361.74,532.70 L362.71,532.53 L363.68,532.36 L364.65,532.19 L365.63,532.03 L366.60,531.87 L367.57,531.71 L368.54,531.56 L369.51,531.40 L370.49,531.25 L371.46,531.09 L372.43,530.94 L373.40,530.79 L374.38,530.65 L375.35,530.50 L376.32,530.35 L377.29,530.21 L378.27,530.06 L379.24,529.92 L380.21,529.79 L381.18,529.65 L382.16,529.52 L383.13,529.39 L384.10,529.26 L385.07,529.13 L386.05,529.00 L387.02,528.87 L387.99,528.74 L388.96,528.61 L389.93,528.47 L390.91,528.33 L391.88,528.19 L392.85,528.04 L393.82,527.89 L394.80,527.72 L395.77,527.55 L396.74,527.38 L397.71,527.19 L398.69,527.00 L399.66,526.80 L400.63,526.60 L401.60,526.39 L402.58,526.19 L403.55,525.98 L404.52,525.77 L405.49,525.56 L406.47,525.36 L407.44,525.15 L408.41,524.95 L409.38,524.76 L410.35,524.56 L411.33,524.37 L412.30,524.16 L413.27,523.95 L414.24,523.73 L415.22,523.51 L416.19,523.29 L417.16,523.08 L418.13,522.88 L419.11,522.70 L420.08,522.54 L421.05,522.42 L422.02,522.32 L423.00,522.26 L423.97,522.23 L424.94,522.22 L425.91,522.22 L426.89,522.23 L427.86,522.25 L428.83,522.27 L429.80,522.30 L430.77,522.32 L431.75,522.35 L432.72,522.37 L433.69,522.40 L434.66,522.42 L435.64,522.44 L436.61,522.46 L437.58,522.48 L438.55,522.49 L439.53,522.49 L440.50,522.48 L441.47,522.46 L442.44,522.42 L443.42,522.37 L444.39,522.30 L445.36,522.22 L446.33,522.12 L447.31,522.01 L448.28,521.89 L449.25,521.76 L450.22,521.62 L451.19,521.48 L452.17,521.33 L453.14,521.17 L454.11,521.01 L455.08,520.84 L456.06,520.68 L457.03,520.51 L458.00,520.34 L458.97,520.17 L459.95,520.01 L460.92,519.84 L461.89,519.66 L462.86,519.48 L463.84,519.29 L464.81,519.09 L465.78,518.89 L466.75,518.68 L467.73,518.45 L468.70,518.23 L469.67,517.99 L470.64,517.74 L471.62,517.49 L472.59,517.23 L473.56,516.96 L474.53,516.69 L475.50,516.40 L476.48,516.11 L477.45,515.81 L478.42,515.50 L479.39,515.17 L480.37,514.81 L481.34,514.41 L482.31,513.96 L483.28,513.46 L484.26,512.91 L485.23,512.32 L486.20,511.70 L487.17,511.07 L488.15,510.42 L489.12,509.77 L490.09,509.13 L491.06,508.50 L492.04,507.90 L493.01,507.33 L493.98,506.81 L494.95,506.35 L495.92,505.94 L496.90,505.61 L497.87,505.36 L498.84,505.19 L499.81,505.13 L500.79,505.17 L501.76,505.31 L502.73,505.56 L503.70,505.91 L504.68,506.36 L505.65,506.90 L506.62,507.53 L507.59,508.24 L508.57,509.02 L509.54,509.88 L510.51,510.79 L511.48,511.75 L512.46,512.76 L513.43,513.81 L514.40,515.00" fill="none" stroke="#1a3a16" stroke-width="0.55" stroke-linejoin="round"/>
<path d="M282.00,560.30 L282.00,556.00 L282.78,555.98 L283.55,555.95 L284.33,555.92 L285.11,555.89 L285.89,555.84 L286.66,555.80 L287.44,555.74 L288.22,555.69 L289.00,555.62 L289.77,555.56 L290.55,555.49 L291.33,555.42 L292.10,555.34 L292.88,555.26 L293.66,555.18 L294.44,555.10 L295.21,555.02 L295.99,554.93 L296.77,554.84 L297.55,554.75 L298.32,554.64 L299.10,554.53 L299.88,554.40 L300.65,554.27 L301.43,554.13 L302.21,553.99 L302.99,553.84 L303.76,553.68 L304.54,553.52 L305.32,553.35 L306.09,553.18 L306.87,553.00 L307.65,552.82 L308.43,552.64 L309.20,552.45 L309.98,552.27 L310.76,552.08 L311.54,551.89 L312.31,551.69 L313.09,551.50 L313.87,551.30 L314.64,551.09 L315.42,550.87 L316.20,550.64 L316.98,550.41 L317.75,550.17 L318.53,549.93 L319.31,549.68 L320.09,549.42 L320.86,549.16 L321.64,548.90 L322.42,548.64 L323.19,548.37 L323.97,548.11 L324.75,547.84 L325.53,547.57 L326.30,547.31 L327.08,547.04 L327.86,546.78 L328.64,546.52 L329.41,546.26 L330.19,546.00 L330.97,545.74 L331.74,545.48 L332.52,545.21 L333.30,544.94 L334.08,544.67 L334.85,544.40 L335.63,544.13 L336.41,543.86 L337.19,543.58 L337.96,543.31 L338.74,543.04 L339.52,542.77 L340.29,542.50 L341.07,542.24 L341.85,541.97 L342.63,541.71 L343.40,541.45 L344.18,541.20 L344.96,540.94 L345.74,540.69 L346.51,540.44 L347.29,540.19 L348.07,539.94 L348.84,539.69 L349.62,539.44 L350.40,539.18 L351.18,538.94 L351.95,538.69 L352.73,538.44 L353.51,538.20 L354.28,537.96 L355.06,537.72 L355.84,537.49 L356.62,537.26 L357.39,537.03 L358.17,536.82 L358.95,536.60 L359.73,536.40 L360.50,536.20 L361.28,536.00 L362.06,535.82 L362.83,535.64 L363.61,535.47 L364.39,535.30 L365.17,535.13 L365.94,534.98 L366.72,534.82 L367.50,534.67 L368.28,534.52 L369.05,534.37 L369.83,534.23 L370.61,534.08 L371.38,533.94 L372.16,533.80 L372.94,533.65 L373.72,533.51 L374.49,533.37 L375.27,533.22 L376.05,533.08 L376.83,532.93 L377.60,532.78 L378.38,532.62 L379.16,532.47 L379.93,532.31 L380.71,532.16 L381.49,532.00 L382.27,531.85 L383.04,531.69 L383.82,531.54 L384.60,531.38 L385.38,531.22 L386.15,531.07 L386.93,530.91 L387.71,530.75 L388.48,530.60 L389.26,530.44 L390.04,530.28 L390.82,530.12 L391.59,529.97 L392.37,529.81 L393.15,529.65 L393.93,529.50 L394.70,529.34 L395.48,529.18 L396.26,529.02 L397.03,528.86 L397.81,528.70 L398.59,528.54 L399.37,528.38 L400.14,528.22 L400.92,528.06 L401.70,527.89 L402.47,527.73 L403.25,527.57 L404.03,527.41 L404.81,527.25 L405.58,527.10 L406.36,526.94 L407.14,526.79 L407.92,526.63 L408.69,526.48 L409.47,526.33 L410.25,526.19 L411.02,526.04 L411.80,525.90 L412.58,525.76 L413.36,525.62 L414.13,525.49 L414.91,525.36 L415.69,525.22 L416.47,525.09 L417.24,524.97 L418.02,524.84 L418.80,524.71 L419.57,524.58 L420.35,524.45 L421.13,524.32 L421.91,524.19 L422.68,524.06 L423.46,523.93 L424.24,523.79 L425.02,523.66 L425.79,523.52 L426.57,523.38 L427.35,523.24 L428.12,523.09 L428.90,522.95 L429.68,522.81 L430.46,522.66 L431.23,522.52 L432.01,522.38 L432.79,522.23 L433.57,522.08 L434.34,521.93 L435.12,521.77 L435.90,521.62 L436.67,521.45 L437.45,521.29 L438.23,521.11 L439.01,520.93 L439.78,520.75 L440.56,520.55 L441.34,520.35 L442.12,520.13 L442.89,519.91 L443.67,519.67 L444.45,519.42 L445.22,519.16 L446.00,518.90 L446.78,518.63 L447.56,518.36 L448.33,518.08 L449.11,517.80 L449.89,517.52 L450.66,517.24 L451.44,516.96 L452.22,516.68 L453.00,516.41 L453.77,516.14 L454.55,515.88 L455.33,515.62 L456.11,515.37 L456.88,515.13 L457.66,514.89 L458.44,514.66 L459.21,514.44 L459.99,514.22 L460.77,514.00 L461.55,513.79 L462.32,513.57 L463.10,513.36 L463.88,513.15 L464.66,512.93 L465.43,512.72 L466.21,512.50 L466.99,512.27 L467.76,512.04 L468.54,511.81 L469.32,511.57 L470.10,511.32 L470.87,511.06 L471.65,510.79 L472.43,510.52 L473.21,510.23 L473.98,509.94 L474.76,509.64 L475.54,509.33 L476.31,509.02 L477.09,508.69 L477.87,508.36 L478.65,508.02 L479.42,507.67 L480.20,507.30 L480.98,506.92 L481.76,506.52 L482.53,506.11 L483.31,505.68 L484.09,505.23 L484.86,504.76 L485.64,504.27 L486.42,503.76 L487.20,503.21 L487.97,502.63 L488.75,501.99 L489.53,501.31 L490.31,500.58 L491.08,499.81 L491.86,498.99 L492.64,498.12 L493.41,497.22 L494.19,496.27 L494.97,495.29 L495.75,494.28 L496.52,493.23 L497.30,492.15 L498.08,491.04 L498.85,489.89 L499.63,488.67 L500.41,487.36 L501.19,485.94 L501.96,484.43 L502.74,482.84 L503.52,481.20 L504.30,479.52 L505.07,477.82 L505.85,476.05 L506.63,474.13 L507.40,472.02 L508.18,469.95 L508.96,468.33 L509.74,467.52 L510.51,467.69 L511.29,468.81 L512.07,471.06 L512.85,474.67 L513.62,480.66 L514.40,492.00 L514.40,560.30 Z" fill="#8C72C0" /><path d="M282.00,556.00 L282.78,555.98 L283.55,555.95 L284.33,555.92 L285.11,555.89 L285.89,555.84 L286.66,555.80 L287.44,555.74 L288.22,555.69 L289.00,555.62 L289.77,555.56 L290.55,555.49 L291.33,555.42 L292.10,555.34 L292.88,555.26 L293.66,555.18 L294.44,555.10 L295.21,555.02 L295.99,554.93 L296.77,554.84 L297.55,554.75 L298.32,554.64 L299.10,554.53 L299.88,554.40 L300.65,554.27 L301.43,554.13 L302.21,553.99 L302.99,553.84 L303.76,553.68 L304.54,553.52 L305.32,553.35 L306.09,553.18 L306.87,553.00 L307.65,552.82 L308.43,552.64 L309.20,552.45 L309.98,552.27 L310.76,552.08 L311.54,551.89 L312.31,551.69 L313.09,551.50 L313.87,551.30 L314.64,551.09 L315.42,550.87 L316.20,550.64 L316.98,550.41 L317.75,550.17 L318.53,549.93 L319.31,549.68 L320.09,549.42 L320.86,549.16 L321.64,548.90 L322.42,548.64 L323.19,548.37 L323.97,548.11 L324.75,547.84 L325.53,547.57 L326.30,547.31 L327.08,547.04 L327.86,546.78 L328.64,546.52 L329.41,546.26 L330.19,546.00 L330.97,545.74 L331.74,545.48 L332.52,545.21 L333.30,544.94 L334.08,544.67 L334.85,544.40 L335.63,544.13 L336.41,543.86 L337.19,543.58 L337.96,543.31 L338.74,543.04 L339.52,542.77 L340.29,542.50 L341.07,542.24 L341.85,541.97 L342.63,541.71 L343.40,541.45 L344.18,541.20 L344.96,540.94 L345.74,540.69 L346.51,540.44 L347.29,540.19 L348.07,539.94 L348.84,539.69 L349.62,539.44 L350.40,539.18 L351.18,538.94 L351.95,538.69 L352.73,538.44 L353.51,538.20 L354.28,537.96 L355.06,537.72 L355.84,537.49 L356.62,537.26 L357.39,537.03 L358.17,536.82 L358.95,536.60 L359.73,536.40 L360.50,536.20 L361.28,536.00 L362.06,535.82 L362.83,535.64 L363.61,535.47 L364.39,535.30 L365.17,535.13 L365.94,534.98 L366.72,534.82 L367.50,534.67 L368.28,534.52 L369.05,534.37 L369.83,534.23 L370.61,534.08 L371.38,533.94 L372.16,533.80 L372.94,533.65 L373.72,533.51 L374.49,533.37 L375.27,533.22 L376.05,533.08 L376.83,532.93 L377.60,532.78 L378.38,532.62 L379.16,532.47 L379.93,532.31 L380.71,532.16 L381.49,532.00 L382.27,531.85 L383.04,531.69 L383.82,531.54 L384.60,531.38 L385.38,531.22 L386.15,531.07 L386.93,530.91 L387.71,530.75 L388.48,530.60 L389.26,530.44 L390.04,530.28 L390.82,530.12 L391.59,529.97 L392.37,529.81 L393.15,529.65 L393.93,529.50 L394.70,529.34 L395.48,529.18 L396.26,529.02 L397.03,528.86 L397.81,528.70 L398.59,528.54 L399.37,528.38 L400.14,528.22 L400.92,528.06 L401.70,527.89 L402.47,527.73 L403.25,527.57 L404.03,527.41 L404.81,527.25 L405.58,527.10 L406.36,526.94 L407.14,526.79 L407.92,526.63 L408.69,526.48 L409.47,526.33 L410.25,526.19 L411.02,526.04 L411.80,525.90 L412.58,525.76 L413.36,525.62 L414.13,525.49 L414.91,525.36 L415.69,525.22 L416.47,525.09 L417.24,524.97 L418.02,524.84 L418.80,524.71 L419.57,524.58 L420.35,524.45 L421.13,524.32 L421.91,524.19 L422.68,524.06 L423.46,523.93 L424.24,523.79 L425.02,523.66 L425.79,523.52 L426.57,523.38 L427.35,523.24 L428.12,523.09 L428.90,522.95 L429.68,522.81 L430.46,522.66 L431.23,522.52 L432.01,522.38 L432.79,522.23 L433.57,522.08 L434.34,521.93 L435.12,521.77 L435.90,521.62 L436.67,521.45 L437.45,521.29 L438.23,521.11 L439.01,520.93 L439.78,520.75 L440.56,520.55 L441.34,520.35 L442.12,520.13 L442.89,519.91 L443.67,519.67 L444.45,519.42 L445.22,519.16 L446.00,518.90 L446.78,518.63 L447.56,518.36 L448.33,518.08 L449.11,517.80 L449.89,517.52 L450.66,517.24 L451.44,516.96 L452.22,516.68 L453.00,516.41 L453.77,516.14 L454.55,515.88 L455.33,515.62 L456.11,515.37 L456.88,515.13 L457.66,514.89 L458.44,514.66 L459.21,514.44 L459.99,514.22 L460.77,514.00 L461.55,513.79 L462.32,513.57 L463.10,513.36 L463.88,513.15 L464.66,512.93 L465.43,512.72 L466.21,512.50 L466.99,512.27 L467.76,512.04 L468.54,511.81 L469.32,511.57 L470.10,511.32 L470.87,511.06 L471.65,510.79 L472.43,510.52 L473.21,510.23 L473.98,509.94 L474.76,509.64 L475.54,509.33 L476.31,509.02 L477.09,508.69 L477.87,508.36 L478.65,508.02 L479.42,507.67 L480.20,507.30 L480.98,506.92 L481.76,506.52 L482.53,506.11 L483.31,505.68 L484.09,505.23 L484.86,504.76 L485.64,504.27 L486.42,503.76 L487.20,503.21 L487.97,502.63 L488.75,501.99 L489.53,501.31 L490.31,500.58 L491.08,499.81 L491.86,498.99 L492.64,498.12 L493.41,497.22 L494.19,496.27 L494.97,495.29 L495.75,494.28 L496.52,493.23 L497.30,492.15 L498.08,491.04 L498.85,489.89 L499.63,488.67 L500.41,487.36 L501.19,485.94 L501.96,484.43 L502.74,482.84 L503.52,481.20 L504.30,479.52 L505.07,477.82 L505.85,476.05 L506.63,474.13 L507.40,472.02 L508.18,469.95 L508.96,468.33 L509.74,467.52 L510.51,467.69 L511.29,468.81 L512.07,471.06 L512.85,474.67 L513.62,480.66 L514.40,492.00" fill="none" stroke="#241a48" stroke-width="0.7" stroke-linejoin="round"/>
<path d="M282.00,560.30 L282.00,557.00 L282.78,556.91 L283.55,556.83 L284.33,556.75 L285.11,556.67 L285.89,556.58 L286.66,556.49 L287.44,556.41 L288.22,556.32 L289.00,556.23 L289.77,556.14 L290.55,556.05 L291.33,555.96 L292.10,555.86 L292.88,555.77 L293.66,555.68 L294.44,555.58 L295.21,555.48 L295.99,555.39 L296.77,555.29 L297.55,555.19 L298.32,555.09 L299.10,554.99 L299.88,554.89 L300.65,554.79 L301.43,554.69 L302.21,554.58 L302.99,554.48 L303.76,554.37 L304.54,554.27 L305.32,554.16 L306.09,554.05 L306.87,553.94 L307.65,553.84 L308.43,553.73 L309.20,553.62 L309.98,553.50 L310.76,553.39 L311.54,553.28 L312.31,553.16 L313.09,553.05 L313.87,552.94 L314.64,552.82 L315.42,552.70 L316.20,552.58 L316.98,552.47 L317.75,552.35 L318.53,552.23 L319.31,552.11 L320.09,551.99 L320.86,551.86 L321.64,551.74 L322.42,551.62 L323.19,551.49 L323.97,551.36 L324.75,551.23 L325.53,551.10 L326.30,550.97 L327.08,550.84 L327.86,550.71 L328.64,550.57 L329.41,550.44 L330.19,550.30 L330.97,550.17 L331.74,550.03 L332.52,549.89 L333.30,549.75 L334.08,549.60 L334.85,549.46 L335.63,549.32 L336.41,549.17 L337.19,549.03 L337.96,548.88 L338.74,548.73 L339.52,548.59 L340.29,548.44 L341.07,548.29 L341.85,548.14 L342.63,547.98 L343.40,547.83 L344.18,547.68 L344.96,547.52 L345.74,547.37 L346.51,547.21 L347.29,547.06 L348.07,546.90 L348.84,546.74 L349.62,546.58 L350.40,546.42 L351.18,546.26 L351.95,546.10 L352.73,545.94 L353.51,545.78 L354.28,545.62 L355.06,545.46 L355.84,545.29 L356.62,545.13 L357.39,544.96 L358.17,544.80 L358.95,544.63 L359.73,544.46 L360.50,544.30 L361.28,544.13 L362.06,543.96 L362.83,543.79 L363.61,543.63 L364.39,543.46 L365.17,543.29 L365.94,543.12 L366.72,542.95 L367.50,542.78 L368.28,542.61 L369.05,542.44 L369.83,542.26 L370.61,542.09 L371.38,541.92 L372.16,541.75 L372.94,541.58 L373.72,541.40 L374.49,541.23 L375.27,541.06 L376.05,540.88 L376.83,540.71 L377.60,540.54 L378.38,540.36 L379.16,540.19 L379.93,540.01 L380.71,539.84 L381.49,539.67 L382.27,539.50 L383.04,539.32 L383.82,539.15 L384.60,538.98 L385.38,538.81 L386.15,538.64 L386.93,538.47 L387.71,538.30 L388.48,538.13 L389.26,537.96 L390.04,537.79 L390.82,537.62 L391.59,537.45 L392.37,537.28 L393.15,537.11 L393.93,536.93 L394.70,536.76 L395.48,536.58 L396.26,536.41 L397.03,536.23 L397.81,536.05 L398.59,535.87 L399.37,535.69 L400.14,535.51 L400.92,535.32 L401.70,535.13 L402.47,534.95 L403.25,534.76 L404.03,534.56 L404.81,534.37 L405.58,534.17 L406.36,533.97 L407.14,533.77 L407.92,533.57 L408.69,533.36 L409.47,533.15 L410.25,532.94 L411.02,532.73 L411.80,532.51 L412.58,532.29 L413.36,532.06 L414.13,531.83 L414.91,531.60 L415.69,531.37 L416.47,531.13 L417.24,530.89 L418.02,530.64 L418.80,530.39 L419.57,530.14 L420.35,529.87 L421.13,529.60 L421.91,529.31 L422.68,529.00 L423.46,528.69 L424.24,528.36 L425.02,528.02 L425.79,527.66 L426.57,527.30 L427.35,526.94 L428.12,526.56 L428.90,526.19 L429.68,525.80 L430.46,525.42 L431.23,525.03 L432.01,524.65 L432.79,524.26 L433.57,523.88 L434.34,523.50 L435.12,523.13 L435.90,522.76 L436.67,522.40 L437.45,522.05 L438.23,521.70 L439.01,521.37 L439.78,521.05 L440.56,520.74 L441.34,520.44 L442.12,520.15 L442.89,519.86 L443.67,519.57 L444.45,519.29 L445.22,519.01 L446.00,518.74 L446.78,518.47 L447.56,518.20 L448.33,517.94 L449.11,517.67 L449.89,517.41 L450.66,517.15 L451.44,516.90 L452.22,516.64 L453.00,516.39 L453.77,516.13 L454.55,515.88 L455.33,515.62 L456.11,515.37 L456.88,515.12 L457.66,514.87 L458.44,514.63 L459.21,514.39 L459.99,514.16 L460.77,513.93 L461.55,513.70 L462.32,513.48 L463.10,513.25 L463.88,513.03 L464.66,512.80 L465.43,512.57 L466.21,512.34 L466.99,512.11 L467.76,511.87 L468.54,511.63 L469.32,511.38 L470.10,511.12 L470.87,510.86 L471.65,510.59 L472.43,510.32 L473.21,510.03 L473.98,509.74 L474.76,509.44 L475.54,509.13 L476.31,508.82 L477.09,508.50 L477.87,508.18 L478.65,507.85 L479.42,507.50 L480.20,507.15 L480.98,506.79 L481.76,506.43 L482.53,506.05 L483.31,505.66 L484.09,505.26 L484.86,504.85 L485.64,504.42 L486.42,503.98 L487.20,503.53 L487.97,503.05 L488.75,502.54 L489.53,502.00 L490.31,501.44 L491.08,500.85 L491.86,500.24 L492.64,499.62 L493.41,498.98 L494.19,498.34 L494.97,497.69 L495.75,497.04 L496.52,496.39 L497.30,495.74 L498.08,495.10 L498.85,494.48 L499.63,493.86 L500.41,493.24 L501.19,492.62 L501.96,492.00 L502.74,491.38 L503.52,490.76 L504.30,490.14 L505.07,489.50 L505.85,488.81 L506.63,488.10 L507.40,487.48 L508.18,487.06 L508.96,486.88 L509.74,486.87 L510.51,486.97 L511.29,487.26 L512.07,487.97 L512.85,489.19 L513.62,491.13 L514.40,495.00 L514.40,560.30 Z" fill="#A4489B" />
<path d="M282.00,560.30 L282.00,556.00 L282.58,555.99 L283.16,555.97 L283.75,555.95 L284.33,555.93 L284.91,555.90 L285.49,555.87 L286.08,555.83 L286.66,555.80 L287.24,555.76 L287.82,555.72 L288.41,555.67 L288.99,555.63 L289.57,555.58 L290.15,555.53 L290.74,555.47 L291.32,555.42 L291.90,555.36 L292.48,555.30 L293.07,555.25 L293.65,555.19 L294.23,555.12 L294.81,555.06 L295.40,555.00 L295.98,554.94 L296.56,554.87 L297.14,554.80 L297.73,554.73 L298.31,554.65 L298.89,554.56 L299.47,554.47 L300.06,554.38 L300.64,554.28 L301.22,554.18 L301.80,554.07 L302.39,553.96 L302.97,553.85 L303.55,553.73 L304.13,553.61 L304.72,553.48 L305.30,553.36 L305.88,553.23 L306.46,553.10 L307.05,552.96 L307.63,552.83 L308.21,552.69 L308.79,552.55 L309.38,552.41 L309.96,552.27 L310.54,552.13 L311.12,551.99 L311.71,551.85 L312.29,551.70 L312.87,551.56 L313.45,551.41 L314.04,551.26 L314.62,551.10 L315.20,550.94 L315.78,550.77 L316.36,550.60 L316.95,550.42 L317.53,550.24 L318.11,550.06 L318.69,549.88 L319.28,549.69 L319.86,549.50 L320.44,549.31 L321.02,549.11 L321.61,548.91 L322.19,548.72 L322.77,548.52 L323.35,548.32 L323.94,548.12 L324.52,547.92 L325.10,547.72 L325.68,547.52 L326.27,547.32 L326.85,547.12 L327.43,546.92 L328.01,546.73 L328.60,546.53 L329.18,546.34 L329.76,546.15 L330.34,545.95 L330.93,545.76 L331.51,545.56 L332.09,545.36 L332.67,545.16 L333.26,544.96 L333.84,544.75 L334.42,544.55 L335.00,544.35 L335.59,544.14 L336.17,543.94 L336.75,543.74 L337.33,543.53 L337.92,543.33 L338.50,543.13 L339.08,542.92 L339.66,542.72 L340.25,542.52 L340.83,542.32 L341.41,542.12 L341.99,541.92 L342.58,541.73 L343.16,541.53 L343.74,541.34 L344.32,541.15 L344.91,540.96 L345.49,540.77 L346.07,540.59 L346.65,540.40 L347.24,540.21 L347.82,540.02 L348.40,539.83 L348.98,539.64 L349.56,539.45 L350.15,539.27 L350.73,539.08 L351.31,538.89 L351.89,538.70 L352.48,538.52 L353.06,538.34 L353.64,538.15 L354.22,537.97 L354.81,537.80 L355.39,537.62 L355.97,537.44 L356.55,537.27 L357.14,537.10 L357.72,536.94 L358.30,536.78 L358.88,536.62 L359.47,536.46 L360.05,536.31 L360.63,536.16 L361.21,536.02 L361.80,535.88 L362.38,535.74 L362.96,535.61 L363.54,535.48 L364.13,535.35 L364.71,535.23 L365.29,535.11 L365.87,534.99 L366.46,534.87 L367.04,534.76 L367.62,534.64 L368.20,534.53 L368.79,534.42 L369.37,534.31 L369.95,534.20 L370.53,534.09 L371.12,533.99 L371.70,533.88 L372.28,533.77 L372.86,533.67 L373.45,533.56 L374.03,533.46 L374.61,533.35 L375.19,533.24 L375.78,533.13 L376.36,533.02 L376.94,532.91 L377.52,532.79 L378.11,532.68 L378.69,532.56 L379.27,532.45 L379.85,532.33 L380.44,532.21 L381.02,532.10 L381.60,531.98 L382.18,531.86 L382.76,531.75 L383.35,531.63 L383.93,531.51 L384.51,531.40 L385.09,531.28 L385.68,531.16 L386.26,531.04 L386.84,530.93 L387.42,530.81 L388.01,530.69 L388.59,530.57 L389.17,530.46 L389.75,530.34 L390.34,530.22 L390.92,530.10 L391.50,529.99 L392.08,529.87 L392.67,529.75 L393.25,529.63 L393.83,529.51 L394.41,529.40 L395.00,529.28 L395.58,529.16 L396.16,529.04 L396.74,528.92 L397.33,528.80 L397.91,528.68 L398.49,528.56 L399.07,528.44 L399.66,528.32 L400.24,528.20 L400.82,528.08 L401.40,527.96 L401.99,527.83 L402.57,527.71 L403.15,527.59 L403.73,527.47 L404.32,527.35 L404.90,527.24 L405.48,527.12 L406.06,527.00 L406.65,526.88 L407.23,526.77 L407.81,526.65 L408.39,526.54 L408.98,526.43 L409.56,526.31 L410.14,526.20 L410.72,526.10 L411.31,525.99 L411.89,525.88 L412.47,525.78 L413.05,525.68 L413.64,525.57 L414.22,525.47 L414.80,525.37 L415.38,525.28 L415.96,525.18 L416.55,525.08 L417.13,524.98 L417.71,524.89 L418.29,524.79 L418.88,524.70 L419.46,524.60 L420.04,524.50 L420.62,524.41 L421.21,524.31 L421.79,524.21 L422.37,524.12 L422.95,524.02 L423.54,523.92 L424.12,523.82 L424.70,523.71 L425.28,523.61 L425.87,523.51 L426.45,523.40 L427.03,523.29 L427.61,523.19 L428.20,523.08 L428.78,522.97 L429.36,522.87 L429.94,522.76 L430.53,522.65 L431.11,522.54 L431.69,522.44 L432.27,522.33 L432.86,522.22 L433.44,522.11 L434.02,521.99 L434.60,521.88 L435.19,521.76 L435.77,521.64 L436.35,522.66 L436.93,522.59 L437.52,522.52 L438.10,522.45 L438.68,522.40 L439.26,522.35 L439.85,522.30 L440.43,522.27 L441.01,522.23 L441.59,522.21 L442.18,522.12 L442.76,521.91 L443.34,521.69 L443.92,521.48 L444.51,521.27 L445.09,521.06 L445.67,520.86 L446.25,520.65 L446.84,520.45 L447.42,520.25 L448.00,520.05 L448.58,519.85 L449.16,519.66 L449.75,519.46 L450.33,519.27 L450.91,519.07 L451.49,518.88 L452.08,518.69 L452.66,518.50 L453.24,518.30 L453.82,518.11 L454.41,517.92 L454.99,517.73 L455.57,517.54 L456.15,517.35 L456.74,517.16 L457.32,516.98 L457.90,516.79 L458.48,516.61 L459.07,516.44 L459.65,516.26 L460.23,516.09 L460.81,515.92 L461.40,515.75 L461.98,515.58 L462.56,515.41 L463.14,515.24 L463.73,515.07 L464.31,514.90 L464.89,514.73 L465.47,514.56 L466.06,514.39 L466.64,514.21 L467.22,514.04 L467.80,513.86 L468.39,513.68 L468.97,513.49 L469.55,513.31 L470.13,513.12 L470.72,512.92 L471.30,512.72 L471.88,512.52 L472.46,512.31 L473.05,512.10 L473.63,511.88 L474.21,511.65 L474.79,511.43 L475.38,511.20 L475.96,510.97 L476.54,510.73 L477.12,510.49 L477.71,510.25 L478.29,510.00 L478.87,509.75 L479.45,509.50 L480.04,509.23 L480.62,508.97 L481.20,508.70 L481.78,508.42 L482.36,508.14 L482.95,507.85 L483.53,507.55 L484.11,507.25 L484.69,506.94 L485.28,506.63 L485.86,506.31 L486.44,505.98 L487.02,505.64 L487.61,505.30 L488.19,504.93 L488.77,504.54 L489.35,504.14 L489.94,503.72 L490.52,503.29 L491.10,502.84 L491.68,502.39 L492.27,501.92 L492.85,501.45 L493.43,500.97 L494.01,500.49 L494.60,500.00 L495.18,499.51 L495.76,499.02 L496.34,498.53 L496.93,498.05 L497.51,497.56 L498.09,497.09 L498.67,496.62 L499.26,496.16 L499.84,495.70 L500.42,495.23 L501.00,494.77 L501.59,494.30 L502.17,493.84 L502.75,493.37 L503.33,492.91 L503.92,492.45 L504.50,491.99 L505.08,491.54 L505.66,491.02 L506.25,490.44 L506.83,489.86 L507.41,489.36 L507.99,488.98 L508.58,488.81 L509.16,488.81 L509.74,488.84 L510.32,488.89 L510.91,488.96 L511.49,489.10 L512.07,489.64 L512.65,490.53 L513.24,491.68 L513.82,493.85 L514.40,497.00 L514.40,560.30 Z" fill="#6446A6" />
<path d="M282.00,556.00 L282.78,555.98 L283.55,555.95 L284.33,555.92 L285.11,555.89 L285.89,555.84 L286.66,555.80 L287.44,555.74 L288.22,555.69 L289.00,555.62 L289.77,555.56 L290.55,555.49 L291.33,555.42 L292.10,555.34 L292.88,555.26 L293.66,555.18 L294.44,555.10 L295.21,555.02 L295.99,554.93 L296.77,554.84 L297.55,554.75 L298.32,554.64 L299.10,554.53 L299.88,554.40 L300.65,554.27 L301.43,554.13 L302.21,553.99 L302.99,553.84 L303.76,553.68 L304.54,553.52 L305.32,553.35 L306.09,553.18 L306.87,553.00 L307.65,552.82 L308.43,552.64 L309.20,552.45 L309.98,552.27 L310.76,552.08 L311.54,551.89 L312.31,551.69 L313.09,551.50 L313.87,551.30 L314.64,551.09 L315.42,550.87 L316.20,550.64 L316.98,550.41 L317.75,550.17 L318.53,549.93 L319.31,549.68 L320.09,549.42 L320.86,549.16 L321.64,548.90 L322.42,548.64 L323.19,548.37 L323.97,548.11 L324.75,547.84 L325.53,547.57 L326.30,547.31 L327.08,547.04 L327.86,546.78 L328.64,546.52 L329.41,546.26 L330.19,546.00 L330.97,545.74 L331.74,545.48 L332.52,545.21 L333.30,544.94 L334.08,544.67 L334.85,544.40 L335.63,544.13 L336.41,543.86 L337.19,543.58 L337.96,543.31 L338.74,543.04 L339.52,542.77 L340.29,542.50 L341.07,542.24 L341.85,541.97 L342.63,541.71 L343.40,541.45 L344.18,541.20 L344.96,540.94 L345.74,540.69 L346.51,540.44 L347.29,540.19 L348.07,539.94 L348.84,539.69 L349.62,539.44 L350.40,539.18 L351.18,538.94 L351.95,538.69 L352.73,538.44 L353.51,538.20 L354.28,537.96 L355.06,537.72 L355.84,537.49 L356.62,537.26 L357.39,537.03 L358.17,536.82 L358.95,536.60 L359.73,536.40 L360.50,536.20 L361.28,536.00 L362.06,535.82 L362.83,535.64 L363.61,535.47 L364.39,535.30 L365.17,535.13 L365.94,534.98 L366.72,534.82 L367.50,534.67 L368.28,534.52 L369.05,534.37 L369.83,534.23 L370.61,534.08 L371.38,533.94 L372.16,533.80 L372.94,533.65 L373.72,533.51 L374.49,533.37 L375.27,533.22 L376.05,533.08 L376.83,532.93 L377.60,532.78 L378.38,532.62 L379.16,532.47 L379.93,532.31 L380.71,532.16 L381.49,532.00 L382.27,531.85 L383.04,531.69 L383.82,531.54 L384.60,531.38 L385.38,531.22 L386.15,531.07 L386.93,530.91 L387.71,530.75 L388.48,530.60 L389.26,530.44 L390.04,530.28 L390.82,530.12 L391.59,529.97 L392.37,529.81 L393.15,529.65 L393.93,529.50 L394.70,529.34 L395.48,529.18 L396.26,529.02 L397.03,528.86 L397.81,528.70 L398.59,528.54 L399.37,528.38 L400.14,528.22 L400.92,528.06 L401.70,527.89 L402.47,527.73 L403.25,527.57 L404.03,527.41 L404.81,527.25 L405.58,527.10 L406.36,526.94 L407.14,526.79 L407.92,526.63 L408.69,526.48 L409.47,526.33 L410.25,526.19 L411.02,526.04 L411.80,525.90 L412.58,525.76 L413.36,525.62 L414.13,525.49 L414.91,525.36 L415.69,525.22 L416.47,525.09 L417.24,524.97 L418.02,524.84 L418.80,524.71 L419.57,524.58 L420.35,524.45 L421.13,524.32 L421.91,524.19 L422.68,524.06 L423.46,523.93 L424.24,523.79 L425.02,523.66 L425.79,523.52 L426.57,523.38 L427.35,523.24 L428.12,523.09 L428.90,522.95 L429.68,522.81 L430.46,522.66 L431.23,522.52 L432.01,522.38 L432.79,522.23 L433.57,522.08 L434.34,521.93 L435.12,521.77 L435.90,521.62 L436.67,521.45 L437.45,521.29 L438.23,521.11 L439.01,520.93 L439.78,520.75 L440.56,520.55 L441.34,520.35 L442.12,520.13 L442.89,519.91 L443.67,519.67 L444.45,519.42 L445.22,519.16 L446.00,518.90 L446.78,518.63 L447.56,518.36 L448.33,518.08 L449.11,517.80 L449.89,517.52 L450.66,517.24 L451.44,516.96 L452.22,516.68 L453.00,516.41 L453.77,516.14 L454.55,515.88 L455.33,515.62 L456.11,515.37 L456.88,515.13 L457.66,514.89 L458.44,514.66 L459.21,514.44 L459.99,514.22 L460.77,514.00 L461.55,513.79 L462.32,513.57 L463.10,513.36 L463.88,513.15 L464.66,512.93 L465.43,512.72 L466.21,512.50 L466.99,512.27 L467.76,512.04 L468.54,511.81 L469.32,511.57 L470.10,511.32 L470.87,511.06 L471.65,510.79 L472.43,510.52 L473.21,510.23 L473.98,509.94 L474.76,509.64 L475.54,509.33 L476.31,509.02 L477.09,508.69 L477.87,508.36 L478.65,508.02 L479.42,507.67 L480.20,507.30 L480.98,506.92 L481.76,506.52 L482.53,506.11 L483.31,505.68 L484.09,505.23 L484.86,504.76 L485.64,504.27 L486.42,503.76 L487.20,503.21 L487.97,502.63 L488.75,501.99 L489.53,501.31 L490.31,500.58 L491.08,499.81 L491.86,498.99 L492.64,498.12 L493.41,497.22 L494.19,496.27 L494.97,495.29 L495.75,494.28 L496.52,493.23 L497.30,492.15 L498.08,491.04 L498.85,489.89 L499.63,488.67 L500.41,487.36 L501.19,485.94 L501.96,484.43 L502.74,482.84 L503.52,481.20 L504.30,479.52 L505.07,477.82 L505.85,476.05 L506.63,474.13 L507.40,472.02 L508.18,469.95 L508.96,468.33 L509.74,467.52 L510.51,467.69 L511.29,468.81 L512.07,471.06 L512.85,474.67 L513.62,480.66 L514.40,492.00" fill="none" stroke="#241a48" stroke-width="0.7" stroke-linejoin="round"/>
<rect x="216.3" y="573.6" width="5.4" height="5.2" fill="#C9507F" stroke="#8A2C55" stroke-width="0.5"/>
<text x="224.5" y="578.2" font-size="5.6" fill="#222">Acinar</text>
<rect x="245" y="573.6" width="5.4" height="5.2" fill="#F1CB4A" stroke="#B9952A" stroke-width="0.5"/>
<text x="253.8" y="578.2" font-size="5.6" fill="#222">Duct</text>
<rect x="268.8" y="573.6" width="5.4" height="5.2" fill="#56A94F" stroke="#2F6E2C" stroke-width="0.5"/>
<text x="277.5" y="578.2" font-size="5.6" fill="#222">PanIN</text>
<rect x="297" y="573.6" width="5.4" height="5.2" fill="#6E55B3" stroke="#3E2C7A" stroke-width="0.5"/>
<text x="306.3" y="578.2" font-size="5.6" fill="#222">PDAC</text>
</svg>
</body></html>
